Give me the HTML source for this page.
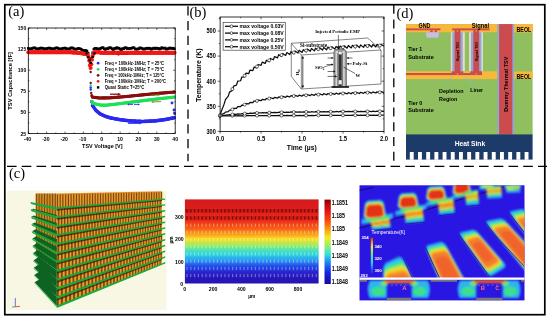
<!DOCTYPE html>
<html><head><meta charset="utf-8"><title>figure</title><style>html,body{margin:0;padding:0;background:#fff;overflow:hidden}svg{display:block}</style></head><body>
<svg width="550" height="319" viewBox="0 0 550 319">
<rect x="0" y="0" width="550" height="319" fill="#fff"/>
<defs><filter id="soft" x="0" y="0" width="550" height="319" filterUnits="userSpaceOnUse"><feGaussianBlur stdDeviation="0.38"/></filter></defs>
<g filter="url(#soft)">
<g id="pa">
<g fill="#000"><rect x="27.00" y="47.05" width="2.6" height="2.6"/><rect x="28.15" y="47.72" width="2.6" height="2.6"/><rect x="29.30" y="47.63" width="2.6" height="2.6"/><rect x="30.45" y="47.18" width="2.6" height="2.6"/><rect x="31.60" y="46.84" width="2.6" height="2.6"/><rect x="32.75" y="46.53" width="2.6" height="2.6"/><rect x="33.90" y="46.72" width="2.6" height="2.6"/><rect x="35.05" y="47.49" width="2.6" height="2.6"/><rect x="36.20" y="47.85" width="2.6" height="2.6"/><rect x="37.35" y="47.35" width="2.6" height="2.6"/><rect x="38.50" y="47.17" width="2.6" height="2.6"/><rect x="39.65" y="46.71" width="2.6" height="2.6"/><rect x="40.80" y="46.89" width="2.6" height="2.6"/><rect x="41.95" y="47.05" width="2.6" height="2.6"/><rect x="43.10" y="47.63" width="2.6" height="2.6"/><rect x="44.25" y="47.67" width="2.6" height="2.6"/><rect x="45.40" y="47.30" width="2.6" height="2.6"/><rect x="46.55" y="46.99" width="2.6" height="2.6"/><rect x="47.70" y="46.71" width="2.6" height="2.6"/><rect x="48.85" y="46.94" width="2.6" height="2.6"/><rect x="50.00" y="47.31" width="2.6" height="2.6"/><rect x="51.15" y="47.64" width="2.6" height="2.6"/><rect x="52.30" y="47.68" width="2.6" height="2.6"/><rect x="53.45" y="47.10" width="2.6" height="2.6"/><rect x="54.60" y="46.67" width="2.6" height="2.6"/><rect x="55.75" y="46.53" width="2.6" height="2.6"/><rect x="56.90" y="47.12" width="2.6" height="2.6"/><rect x="58.05" y="47.44" width="2.6" height="2.6"/><rect x="59.20" y="48.03" width="2.6" height="2.6"/><rect x="60.35" y="47.51" width="2.6" height="2.6"/><rect x="61.50" y="47.00" width="2.6" height="2.6"/><rect x="62.65" y="46.88" width="2.6" height="2.6"/><rect x="63.80" y="46.75" width="2.6" height="2.6"/><rect x="64.95" y="47.26" width="2.6" height="2.6"/><rect x="66.10" y="47.66" width="2.6" height="2.6"/><rect x="67.25" y="47.89" width="2.6" height="2.6"/><rect x="68.40" y="47.32" width="2.6" height="2.6"/><rect x="69.55" y="46.66" width="2.6" height="2.6"/><rect x="70.70" y="46.60" width="2.6" height="2.6"/><rect x="71.85" y="46.85" width="2.6" height="2.6"/><rect x="73.00" y="47.63" width="2.6" height="2.6"/><rect x="74.15" y="48.06" width="2.6" height="2.6"/><rect x="75.30" y="47.79" width="2.6" height="2.6"/><rect x="76.45" y="47.29" width="2.6" height="2.6"/><rect x="77.60" y="47.27" width="2.6" height="2.6"/><rect x="78.75" y="47.44" width="2.6" height="2.6"/><rect x="79.90" y="47.97" width="2.6" height="2.6"/><rect x="81.05" y="48.86" width="2.6" height="2.6"/><rect x="82.20" y="49.45" width="2.6" height="2.6"/><rect x="83.35" y="49.34" width="2.6" height="2.6"/><rect x="84.50" y="49.19" width="2.6" height="2.6"/><rect x="85.65" y="49.74" width="2.6" height="2.6"/><rect x="86.80" y="51.86" width="2.6" height="2.6"/><rect x="87.95" y="57.14" width="2.6" height="2.6"/><rect x="89.10" y="62.10" width="2.6" height="2.6"/><rect x="90.25" y="57.07" width="2.6" height="2.6"/><rect x="91.40" y="51.46" width="2.6" height="2.6"/><rect x="92.55" y="47.91" width="2.6" height="2.6"/><rect x="93.70" y="46.99" width="2.6" height="2.6"/><rect x="94.85" y="47.03" width="2.6" height="2.6"/><rect x="96.00" y="47.64" width="2.6" height="2.6"/><rect x="97.15" y="47.68" width="2.6" height="2.6"/><rect x="98.30" y="47.71" width="2.6" height="2.6"/><rect x="99.45" y="47.00" width="2.6" height="2.6"/><rect x="100.60" y="46.49" width="2.6" height="2.6"/><rect x="101.75" y="46.34" width="2.6" height="2.6"/><rect x="102.90" y="47.47" width="2.6" height="2.6"/><rect x="104.05" y="48.14" width="2.6" height="2.6"/><rect x="105.20" y="47.32" width="2.6" height="2.6"/><rect x="106.35" y="47.48" width="2.6" height="2.6"/><rect x="107.50" y="46.72" width="2.6" height="2.6"/><rect x="108.65" y="46.35" width="2.6" height="2.6"/><rect x="109.80" y="46.68" width="2.6" height="2.6"/><rect x="110.95" y="47.58" width="2.6" height="2.6"/><rect x="112.10" y="48.27" width="2.6" height="2.6"/><rect x="113.25" y="47.05" width="2.6" height="2.6"/><rect x="114.40" y="47.12" width="2.6" height="2.6"/><rect x="115.55" y="46.28" width="2.6" height="2.6"/><rect x="116.70" y="46.96" width="2.6" height="2.6"/><rect x="117.85" y="46.86" width="2.6" height="2.6"/><rect x="119.00" y="47.91" width="2.6" height="2.6"/><rect x="120.15" y="48.35" width="2.6" height="2.6"/><rect x="121.30" y="47.29" width="2.6" height="2.6"/><rect x="122.45" y="47.37" width="2.6" height="2.6"/><rect x="123.60" y="46.51" width="2.6" height="2.6"/><rect x="124.75" y="46.40" width="2.6" height="2.6"/><rect x="125.90" y="47.30" width="2.6" height="2.6"/><rect x="127.05" y="47.29" width="2.6" height="2.6"/><rect x="128.20" y="47.33" width="2.6" height="2.6"/><rect x="129.35" y="47.01" width="2.6" height="2.6"/><rect x="130.50" y="46.88" width="2.6" height="2.6"/><rect x="131.65" y="46.37" width="2.6" height="2.6"/><rect x="132.80" y="46.48" width="2.6" height="2.6"/><rect x="133.95" y="47.77" width="2.6" height="2.6"/><rect x="135.10" y="47.81" width="2.6" height="2.6"/><rect x="136.25" y="47.86" width="2.6" height="2.6"/><rect x="137.40" y="47.34" width="2.6" height="2.6"/><rect x="138.55" y="46.59" width="2.6" height="2.6"/><rect x="139.70" y="46.73" width="2.6" height="2.6"/><rect x="140.85" y="47.12" width="2.6" height="2.6"/><rect x="142.00" y="47.77" width="2.6" height="2.6"/><rect x="143.15" y="47.86" width="2.6" height="2.6"/><rect x="144.30" y="47.26" width="2.6" height="2.6"/><rect x="145.45" y="46.94" width="2.6" height="2.6"/><rect x="146.60" y="47.14" width="2.6" height="2.6"/><rect x="147.75" y="46.88" width="2.6" height="2.6"/><rect x="148.90" y="47.22" width="2.6" height="2.6"/><rect x="150.05" y="48.09" width="2.6" height="2.6"/><rect x="151.20" y="47.27" width="2.6" height="2.6"/><rect x="152.35" y="46.83" width="2.6" height="2.6"/><rect x="153.50" y="47.22" width="2.6" height="2.6"/><rect x="154.65" y="46.75" width="2.6" height="2.6"/><rect x="155.80" y="47.06" width="2.6" height="2.6"/><rect x="156.95" y="47.01" width="2.6" height="2.6"/><rect x="158.10" y="47.81" width="2.6" height="2.6"/><rect x="159.25" y="47.39" width="2.6" height="2.6"/><rect x="160.40" y="46.40" width="2.6" height="2.6"/><rect x="161.55" y="46.82" width="2.6" height="2.6"/><rect x="162.70" y="46.94" width="2.6" height="2.6"/><rect x="163.85" y="46.74" width="2.6" height="2.6"/><rect x="165.00" y="47.86" width="2.6" height="2.6"/><rect x="166.15" y="47.62" width="2.6" height="2.6"/><rect x="167.30" y="47.30" width="2.6" height="2.6"/><rect x="168.45" y="46.63" width="2.6" height="2.6"/><rect x="169.60" y="46.92" width="2.6" height="2.6"/><rect x="170.75" y="47.16" width="2.6" height="2.6"/><rect x="171.90" y="46.90" width="2.6" height="2.6"/><rect x="173.05" y="47.53" width="2.6" height="2.6"/></g>
<g fill="#2a2af0"><circle cx="91.80" cy="101.65" r="1.8"/><circle cx="92.60" cy="105.64" r="1.8"/><circle cx="93.40" cy="106.79" r="1.8"/><circle cx="94.20" cy="107.93" r="1.8"/><circle cx="95.00" cy="109.07" r="1.8"/><circle cx="95.80" cy="110.21" r="1.8"/><circle cx="96.60" cy="110.99" r="1.8"/><circle cx="97.40" cy="111.65" r="1.8"/><circle cx="98.20" cy="112.31" r="1.8"/><circle cx="99.00" cy="112.97" r="1.8"/><circle cx="99.80" cy="113.63" r="1.8"/><circle cx="100.60" cy="114.09" r="1.8"/><circle cx="101.40" cy="114.47" r="1.8"/><circle cx="102.20" cy="114.86" r="1.8"/><circle cx="103.00" cy="115.24" r="1.8"/><circle cx="103.80" cy="115.62" r="1.8"/><circle cx="104.60" cy="116.01" r="1.8"/><circle cx="105.40" cy="116.33" r="1.8"/><circle cx="106.20" cy="116.58" r="1.8"/><circle cx="107.00" cy="116.84" r="1.8"/><circle cx="107.80" cy="117.10" r="1.8"/><circle cx="108.60" cy="117.35" r="1.8"/><circle cx="109.40" cy="117.61" r="1.8"/><circle cx="110.20" cy="117.84" r="1.8"/><circle cx="111.00" cy="117.99" r="1.8"/><circle cx="111.80" cy="118.14" r="1.8"/><circle cx="112.60" cy="118.29" r="1.8"/><circle cx="113.40" cy="118.45" r="1.8"/><circle cx="114.20" cy="118.60" r="1.8"/><circle cx="115.00" cy="118.75" r="1.8"/><circle cx="115.80" cy="118.90" r="1.8"/><circle cx="116.60" cy="119.05" r="1.8"/><circle cx="117.40" cy="119.21" r="1.8"/><circle cx="118.20" cy="119.36" r="1.8"/><circle cx="119.00" cy="119.51" r="1.8"/><circle cx="119.80" cy="119.66" r="1.8"/><circle cx="120.60" cy="119.77" r="1.8"/><circle cx="121.40" cy="119.87" r="1.8"/><circle cx="122.20" cy="119.96" r="1.8"/><circle cx="123.00" cy="120.06" r="1.8"/><circle cx="123.80" cy="120.16" r="1.8"/><circle cx="124.60" cy="120.25" r="1.8"/><circle cx="125.40" cy="120.35" r="1.8"/><circle cx="126.20" cy="120.44" r="1.8"/><circle cx="127.00" cy="120.54" r="1.8"/><circle cx="127.80" cy="120.64" r="1.8"/><circle cx="128.60" cy="120.73" r="1.8"/><circle cx="129.40" cy="120.83" r="1.8"/><circle cx="130.20" cy="120.91" r="1.8"/><circle cx="131.00" cy="120.95" r="1.8"/><circle cx="131.80" cy="120.99" r="1.8"/><circle cx="132.60" cy="121.02" r="1.8"/><circle cx="133.40" cy="121.06" r="1.8"/><circle cx="134.20" cy="121.10" r="1.8"/><circle cx="135.00" cy="121.14" r="1.8"/><circle cx="135.80" cy="121.18" r="1.8"/><circle cx="136.60" cy="121.21" r="1.8"/><circle cx="137.40" cy="121.25" r="1.8"/><circle cx="138.20" cy="121.29" r="1.8"/><circle cx="139.00" cy="121.33" r="1.8"/><circle cx="139.80" cy="121.37" r="1.8"/><circle cx="140.60" cy="121.40" r="1.8"/><circle cx="141.40" cy="121.44" r="1.8"/><circle cx="142.20" cy="121.48" r="1.8"/><circle cx="143.00" cy="121.48" r="1.8"/><circle cx="143.80" cy="121.44" r="1.8"/><circle cx="144.60" cy="121.40" r="1.8"/><circle cx="145.40" cy="121.36" r="1.8"/><circle cx="146.20" cy="121.33" r="1.8"/><circle cx="147.00" cy="121.29" r="1.8"/><circle cx="147.80" cy="121.25" r="1.8"/><circle cx="148.60" cy="121.21" r="1.8"/><circle cx="149.40" cy="121.17" r="1.8"/><circle cx="150.20" cy="121.13" r="1.8"/><circle cx="151.00" cy="121.09" r="1.8"/><circle cx="151.80" cy="121.05" r="1.8"/><circle cx="152.60" cy="121.02" r="1.8"/><circle cx="153.40" cy="120.98" r="1.8"/><circle cx="154.20" cy="120.94" r="1.8"/><circle cx="155.00" cy="120.90" r="1.8"/><circle cx="155.80" cy="120.80" r="1.8"/><circle cx="156.60" cy="120.69" r="1.8"/><circle cx="157.40" cy="120.59" r="1.8"/><circle cx="158.20" cy="120.48" r="1.8"/><circle cx="159.00" cy="120.38" r="1.8"/><circle cx="159.80" cy="120.28" r="1.8"/><circle cx="160.60" cy="120.17" r="1.8"/><circle cx="161.40" cy="120.07" r="1.8"/><circle cx="162.20" cy="119.96" r="1.8"/><circle cx="163.00" cy="119.86" r="1.8"/><circle cx="163.80" cy="119.76" r="1.8"/><circle cx="164.60" cy="119.65" r="1.8"/><circle cx="165.40" cy="119.52" r="1.8"/><circle cx="166.20" cy="119.36" r="1.8"/><circle cx="167.00" cy="119.20" r="1.8"/><circle cx="167.80" cy="119.04" r="1.8"/><circle cx="168.60" cy="118.88" r="1.8"/><circle cx="169.40" cy="118.72" r="1.8"/><circle cx="170.20" cy="118.56" r="1.8"/><circle cx="171.00" cy="118.40" r="1.8"/><circle cx="171.80" cy="118.24" r="1.8"/><circle cx="172.60" cy="118.08" r="1.8"/><circle cx="173.40" cy="117.92" r="1.8"/><circle cx="174.20" cy="117.76" r="1.8"/></g>
<g fill="#2a2af0"><circle cx="172" cy="103" r="1.4"/><circle cx="174" cy="110" r="1.4"/><circle cx="174.6" cy="113.6" r="1.4"/></g>
<g fill="#1ee05a"><circle cx="91.80" cy="101.31" r="1.6"/><circle cx="92.60" cy="103.22" r="1.6"/><circle cx="93.40" cy="103.42" r="1.6"/><circle cx="94.20" cy="103.61" r="1.6"/><circle cx="95.00" cy="103.80" r="1.6"/><circle cx="95.80" cy="103.99" r="1.6"/><circle cx="96.60" cy="104.18" r="1.6"/><circle cx="97.40" cy="104.38" r="1.6"/><circle cx="98.20" cy="104.57" r="1.6"/><circle cx="99.00" cy="104.76" r="1.6"/><circle cx="99.80" cy="104.95" r="1.6"/><circle cx="100.60" cy="105.02" r="1.6"/><circle cx="101.40" cy="105.05" r="1.6"/><circle cx="102.20" cy="105.07" r="1.6"/><circle cx="103.00" cy="105.10" r="1.6"/><circle cx="103.80" cy="105.13" r="1.6"/><circle cx="104.60" cy="105.15" r="1.6"/><circle cx="105.40" cy="105.18" r="1.6"/><circle cx="106.20" cy="105.18" r="1.6"/><circle cx="107.00" cy="105.09" r="1.6"/><circle cx="107.80" cy="104.99" r="1.6"/><circle cx="108.60" cy="104.90" r="1.6"/><circle cx="109.40" cy="104.81" r="1.6"/><circle cx="110.20" cy="104.72" r="1.6"/><circle cx="111.00" cy="104.63" r="1.6"/><circle cx="111.80" cy="104.54" r="1.6"/><circle cx="112.60" cy="104.45" r="1.6"/><circle cx="113.40" cy="104.35" r="1.6"/><circle cx="114.20" cy="104.26" r="1.6"/><circle cx="115.00" cy="104.17" r="1.6"/><circle cx="115.80" cy="104.08" r="1.6"/><circle cx="116.60" cy="103.99" r="1.6"/><circle cx="117.40" cy="103.90" r="1.6"/><circle cx="118.20" cy="103.81" r="1.6"/><circle cx="119.00" cy="103.71" r="1.6"/><circle cx="119.80" cy="103.62" r="1.6"/><circle cx="120.60" cy="103.52" r="1.6"/><circle cx="121.40" cy="103.42" r="1.6"/><circle cx="122.20" cy="103.31" r="1.6"/><circle cx="123.00" cy="103.21" r="1.6"/><circle cx="123.80" cy="103.11" r="1.6"/><circle cx="124.60" cy="103.00" r="1.6"/><circle cx="125.40" cy="102.90" r="1.6"/><circle cx="126.20" cy="102.79" r="1.6"/><circle cx="127.00" cy="102.69" r="1.6"/><circle cx="127.80" cy="102.59" r="1.6"/><circle cx="128.60" cy="102.48" r="1.6"/><circle cx="129.40" cy="102.38" r="1.6"/><circle cx="130.20" cy="102.27" r="1.6"/><circle cx="131.00" cy="102.17" r="1.6"/><circle cx="131.80" cy="102.07" r="1.6"/><circle cx="132.60" cy="101.96" r="1.6"/><circle cx="133.40" cy="101.86" r="1.6"/><circle cx="134.20" cy="101.75" r="1.6"/><circle cx="135.00" cy="101.65" r="1.6"/><circle cx="135.80" cy="101.55" r="1.6"/><circle cx="136.60" cy="101.44" r="1.6"/><circle cx="137.40" cy="101.34" r="1.6"/><circle cx="138.20" cy="101.23" r="1.6"/><circle cx="139.00" cy="101.13" r="1.6"/><circle cx="139.80" cy="101.03" r="1.6"/><circle cx="140.60" cy="100.93" r="1.6"/><circle cx="141.40" cy="100.83" r="1.6"/><circle cx="142.20" cy="100.74" r="1.6"/><circle cx="143.00" cy="100.64" r="1.6"/><circle cx="143.80" cy="100.54" r="1.6"/><circle cx="144.60" cy="100.45" r="1.6"/><circle cx="145.40" cy="100.35" r="1.6"/><circle cx="146.20" cy="100.26" r="1.6"/><circle cx="147.00" cy="100.16" r="1.6"/><circle cx="147.80" cy="100.06" r="1.6"/><circle cx="148.60" cy="99.97" r="1.6"/><circle cx="149.40" cy="99.87" r="1.6"/><circle cx="150.20" cy="99.78" r="1.6"/><circle cx="151.00" cy="99.68" r="1.6"/><circle cx="151.80" cy="99.58" r="1.6"/><circle cx="152.60" cy="99.49" r="1.6"/><circle cx="153.40" cy="99.39" r="1.6"/><circle cx="154.20" cy="99.30" r="1.6"/><circle cx="155.00" cy="99.20" r="1.6"/><circle cx="155.80" cy="99.10" r="1.6"/><circle cx="156.60" cy="99.01" r="1.6"/><circle cx="157.40" cy="98.91" r="1.6"/><circle cx="158.20" cy="98.82" r="1.6"/><circle cx="159.00" cy="98.72" r="1.6"/><circle cx="159.80" cy="98.62" r="1.6"/><circle cx="160.60" cy="98.54" r="1.6"/><circle cx="161.40" cy="98.45" r="1.6"/><circle cx="162.20" cy="98.37" r="1.6"/><circle cx="163.00" cy="98.28" r="1.6"/><circle cx="163.80" cy="98.19" r="1.6"/><circle cx="164.60" cy="98.11" r="1.6"/><circle cx="165.40" cy="98.02" r="1.6"/><circle cx="166.20" cy="97.94" r="1.6"/><circle cx="167.00" cy="97.85" r="1.6"/><circle cx="167.80" cy="97.77" r="1.6"/><circle cx="168.60" cy="97.68" r="1.6"/><circle cx="169.40" cy="97.60" r="1.6"/><circle cx="170.20" cy="97.51" r="1.6"/><circle cx="171.00" cy="97.43" r="1.6"/><circle cx="171.80" cy="97.34" r="1.6"/><circle cx="172.60" cy="97.26" r="1.6"/><circle cx="173.40" cy="97.17" r="1.6"/><circle cx="174.20" cy="97.09" r="1.6"/></g>
<g fill="#8a1010"><circle cx="91.80" cy="95.66" r="1.6"/><circle cx="92.60" cy="97.21" r="1.6"/><circle cx="93.40" cy="97.30" r="1.6"/><circle cx="94.20" cy="97.38" r="1.6"/><circle cx="95.00" cy="97.47" r="1.6"/><circle cx="95.80" cy="97.55" r="1.6"/><circle cx="96.60" cy="97.64" r="1.6"/><circle cx="97.40" cy="97.72" r="1.6"/><circle cx="98.20" cy="97.81" r="1.6"/><circle cx="99.00" cy="97.89" r="1.6"/><circle cx="99.80" cy="97.98" r="1.6"/><circle cx="100.60" cy="97.99" r="1.6"/><circle cx="101.40" cy="97.97" r="1.6"/><circle cx="102.20" cy="97.96" r="1.6"/><circle cx="103.00" cy="97.94" r="1.6"/><circle cx="103.80" cy="97.92" r="1.6"/><circle cx="104.60" cy="97.91" r="1.6"/><circle cx="105.40" cy="97.89" r="1.6"/><circle cx="106.20" cy="97.88" r="1.6"/><circle cx="107.00" cy="97.86" r="1.6"/><circle cx="107.80" cy="97.84" r="1.6"/><circle cx="108.60" cy="97.83" r="1.6"/><circle cx="109.40" cy="97.81" r="1.6"/><circle cx="110.20" cy="97.78" r="1.6"/><circle cx="111.00" cy="97.72" r="1.6"/><circle cx="111.80" cy="97.66" r="1.6"/><circle cx="112.60" cy="97.59" r="1.6"/><circle cx="113.40" cy="97.53" r="1.6"/><circle cx="114.20" cy="97.46" r="1.6"/><circle cx="115.00" cy="97.40" r="1.6"/><circle cx="115.80" cy="97.34" r="1.6"/><circle cx="116.60" cy="97.27" r="1.6"/><circle cx="117.40" cy="97.21" r="1.6"/><circle cx="118.20" cy="97.14" r="1.6"/><circle cx="119.00" cy="97.08" r="1.6"/><circle cx="119.80" cy="97.02" r="1.6"/><circle cx="120.60" cy="96.95" r="1.6"/><circle cx="121.40" cy="96.89" r="1.6"/><circle cx="122.20" cy="96.82" r="1.6"/><circle cx="123.00" cy="96.76" r="1.6"/><circle cx="123.80" cy="96.70" r="1.6"/><circle cx="124.60" cy="96.63" r="1.6"/><circle cx="125.40" cy="96.56" r="1.6"/><circle cx="126.20" cy="96.48" r="1.6"/><circle cx="127.00" cy="96.40" r="1.6"/><circle cx="127.80" cy="96.32" r="1.6"/><circle cx="128.60" cy="96.24" r="1.6"/><circle cx="129.40" cy="96.16" r="1.6"/><circle cx="130.20" cy="96.08" r="1.6"/><circle cx="131.00" cy="96.00" r="1.6"/><circle cx="131.80" cy="95.92" r="1.6"/><circle cx="132.60" cy="95.84" r="1.6"/><circle cx="133.40" cy="95.76" r="1.6"/><circle cx="134.20" cy="95.68" r="1.6"/><circle cx="135.00" cy="95.60" r="1.6"/><circle cx="135.80" cy="95.52" r="1.6"/><circle cx="136.60" cy="95.44" r="1.6"/><circle cx="137.40" cy="95.36" r="1.6"/><circle cx="138.20" cy="95.28" r="1.6"/><circle cx="139.00" cy="95.20" r="1.6"/><circle cx="139.80" cy="95.12" r="1.6"/><circle cx="140.60" cy="95.04" r="1.6"/><circle cx="141.40" cy="94.96" r="1.6"/><circle cx="142.20" cy="94.88" r="1.6"/><circle cx="143.00" cy="94.80" r="1.6"/><circle cx="143.80" cy="94.72" r="1.6"/><circle cx="144.60" cy="94.64" r="1.6"/><circle cx="145.40" cy="94.56" r="1.6"/><circle cx="146.20" cy="94.49" r="1.6"/><circle cx="147.00" cy="94.41" r="1.6"/><circle cx="147.80" cy="94.34" r="1.6"/><circle cx="148.60" cy="94.26" r="1.6"/><circle cx="149.40" cy="94.19" r="1.6"/><circle cx="150.20" cy="94.11" r="1.6"/><circle cx="151.00" cy="94.04" r="1.6"/><circle cx="151.80" cy="93.97" r="1.6"/><circle cx="152.60" cy="93.89" r="1.6"/><circle cx="153.40" cy="93.82" r="1.6"/><circle cx="154.20" cy="93.74" r="1.6"/><circle cx="155.00" cy="93.67" r="1.6"/><circle cx="155.80" cy="93.59" r="1.6"/><circle cx="156.60" cy="93.52" r="1.6"/><circle cx="157.40" cy="93.44" r="1.6"/><circle cx="158.20" cy="93.37" r="1.6"/><circle cx="159.00" cy="93.29" r="1.6"/><circle cx="159.80" cy="93.22" r="1.6"/><circle cx="160.60" cy="93.15" r="1.6"/><circle cx="161.40" cy="93.09" r="1.6"/><circle cx="162.20" cy="93.02" r="1.6"/><circle cx="163.00" cy="92.96" r="1.6"/><circle cx="163.80" cy="92.90" r="1.6"/><circle cx="164.60" cy="92.83" r="1.6"/><circle cx="165.40" cy="92.77" r="1.6"/><circle cx="166.20" cy="92.70" r="1.6"/><circle cx="167.00" cy="92.64" r="1.6"/><circle cx="167.80" cy="92.58" r="1.6"/><circle cx="168.60" cy="92.51" r="1.6"/><circle cx="169.40" cy="92.45" r="1.6"/><circle cx="170.20" cy="92.38" r="1.6"/><circle cx="171.00" cy="92.32" r="1.6"/><circle cx="171.80" cy="92.26" r="1.6"/><circle cx="172.60" cy="92.19" r="1.6"/><circle cx="173.40" cy="92.13" r="1.6"/><circle cx="174.20" cy="92.06" r="1.6"/></g>
<g><circle cx="90.7" cy="72" r="1.2" fill="#8a1010"/><circle cx="90.7" cy="83" r="1.2" fill="#8a1010"/><circle cx="90.7" cy="85.6" r="1.2" fill="#1ee05a"/><circle cx="90.7" cy="87.6" r="1.2" fill="#2a2af0"/><circle cx="90.7" cy="89.5" r="1.2" fill="#2a2af0"/><circle cx="91.2" cy="93" r="1.2" fill="#8a1010"/></g>
<g fill="#f01818"><circle cx="28.30" cy="52.30" r="2.0"/><circle cx="29.00" cy="52.30" r="2.0"/><circle cx="29.70" cy="52.30" r="2.0"/><circle cx="30.40" cy="52.30" r="2.0"/><circle cx="31.10" cy="52.30" r="2.0"/><circle cx="31.80" cy="52.30" r="2.0"/><circle cx="32.50" cy="52.30" r="2.0"/><circle cx="33.20" cy="52.30" r="2.0"/><circle cx="33.90" cy="52.30" r="2.0"/><circle cx="34.60" cy="52.30" r="2.0"/><circle cx="35.30" cy="52.30" r="2.0"/><circle cx="36.00" cy="52.30" r="2.0"/><circle cx="36.70" cy="52.30" r="2.0"/><circle cx="37.40" cy="52.30" r="2.0"/><circle cx="38.10" cy="52.30" r="2.0"/><circle cx="38.80" cy="52.30" r="2.0"/><circle cx="39.50" cy="52.30" r="2.0"/><circle cx="40.20" cy="52.30" r="2.0"/><circle cx="40.90" cy="52.30" r="2.0"/><circle cx="41.60" cy="52.30" r="2.0"/><circle cx="42.30" cy="52.30" r="2.0"/><circle cx="43.00" cy="52.30" r="2.0"/><circle cx="43.70" cy="52.30" r="2.0"/><circle cx="44.40" cy="52.30" r="2.0"/><circle cx="45.10" cy="52.30" r="2.0"/><circle cx="45.80" cy="52.30" r="2.0"/><circle cx="46.50" cy="52.30" r="2.0"/><circle cx="47.20" cy="52.30" r="2.0"/><circle cx="47.90" cy="52.30" r="2.0"/><circle cx="48.60" cy="52.30" r="2.0"/><circle cx="49.30" cy="52.30" r="2.0"/><circle cx="50.00" cy="52.30" r="2.0"/><circle cx="50.70" cy="52.30" r="2.0"/><circle cx="51.40" cy="52.30" r="2.0"/><circle cx="52.10" cy="52.30" r="2.0"/><circle cx="52.80" cy="52.30" r="2.0"/><circle cx="53.50" cy="52.30" r="2.0"/><circle cx="54.20" cy="52.30" r="2.0"/><circle cx="54.90" cy="52.30" r="2.0"/><circle cx="55.60" cy="52.30" r="2.0"/><circle cx="56.30" cy="52.30" r="2.0"/><circle cx="57.00" cy="52.30" r="2.0"/><circle cx="57.70" cy="52.30" r="2.0"/><circle cx="58.40" cy="52.30" r="2.0"/><circle cx="59.10" cy="52.30" r="2.0"/><circle cx="59.80" cy="52.30" r="2.0"/><circle cx="60.50" cy="52.30" r="2.0"/><circle cx="61.20" cy="52.30" r="2.0"/><circle cx="61.90" cy="52.30" r="2.0"/><circle cx="62.60" cy="52.30" r="2.0"/><circle cx="63.30" cy="52.30" r="2.0"/><circle cx="64.00" cy="52.30" r="2.0"/><circle cx="64.70" cy="52.30" r="2.0"/><circle cx="65.40" cy="52.30" r="2.0"/><circle cx="66.10" cy="52.31" r="2.0"/><circle cx="66.80" cy="52.31" r="2.0"/><circle cx="67.50" cy="52.31" r="2.0"/><circle cx="68.20" cy="52.31" r="2.0"/><circle cx="68.90" cy="52.32" r="2.0"/><circle cx="69.60" cy="52.33" r="2.0"/><circle cx="70.30" cy="52.33" r="2.0"/><circle cx="71.00" cy="52.35" r="2.0"/><circle cx="71.70" cy="52.36" r="2.0"/><circle cx="72.40" cy="52.38" r="2.0"/><circle cx="73.10" cy="52.40" r="2.0"/><circle cx="73.80" cy="52.43" r="2.0"/><circle cx="74.50" cy="52.46" r="2.0"/><circle cx="75.20" cy="52.50" r="2.0"/><circle cx="75.90" cy="52.55" r="2.0"/><circle cx="76.60" cy="52.60" r="2.0"/><circle cx="77.30" cy="52.67" r="2.0"/><circle cx="78.00" cy="52.74" r="2.0"/><circle cx="78.70" cy="52.82" r="2.0"/><circle cx="79.40" cy="52.91" r="2.0"/><circle cx="80.10" cy="53.02" r="2.0"/><circle cx="80.80" cy="53.13" r="2.0"/><circle cx="81.50" cy="53.24" r="2.0"/><circle cx="82.20" cy="53.37" r="2.0"/><circle cx="82.90" cy="53.50" r="2.0"/><circle cx="83.60" cy="53.63" r="2.0"/><circle cx="84.30" cy="53.76" r="2.0"/><circle cx="85.00" cy="53.89" r="2.0"/><circle cx="85.70" cy="54.02" r="2.0"/><circle cx="86.40" cy="54.15" r="2.0"/><circle cx="87.10" cy="54.38" r="2.0"/><circle cx="87.80" cy="55.06" r="2.0"/><circle cx="88.50" cy="56.93" r="2.0"/><circle cx="89.20" cy="60.65" r="2.0"/><circle cx="89.90" cy="65.30" r="2.0"/><circle cx="90.60" cy="67.95" r="2.0"/><circle cx="91.30" cy="64.22" r="2.0"/><circle cx="92.00" cy="59.82" r="2.0"/><circle cx="92.70" cy="55.68" r="2.0"/><circle cx="93.40" cy="53.38" r="2.0"/><circle cx="94.10" cy="52.55" r="2.0"/><circle cx="94.80" cy="52.34" r="2.0"/><circle cx="95.50" cy="52.30" r="2.0"/><circle cx="96.20" cy="52.30" r="2.0"/><circle cx="96.90" cy="52.30" r="2.0"/><circle cx="97.60" cy="52.30" r="2.0"/><circle cx="98.30" cy="52.30" r="2.0"/><circle cx="99.00" cy="52.30" r="2.0"/><circle cx="99.70" cy="52.30" r="2.0"/><circle cx="100.40" cy="52.80" r="2.0"/><circle cx="101.10" cy="52.80" r="2.0"/><circle cx="101.80" cy="52.80" r="2.0"/><circle cx="102.50" cy="52.80" r="2.0"/><circle cx="103.20" cy="52.80" r="2.0"/><circle cx="103.90" cy="52.80" r="2.0"/><circle cx="104.60" cy="52.80" r="2.0"/><circle cx="105.30" cy="52.80" r="2.0"/><circle cx="106.00" cy="52.80" r="2.0"/><circle cx="106.70" cy="52.80" r="2.0"/><circle cx="107.40" cy="52.80" r="2.0"/><circle cx="108.10" cy="52.80" r="2.0"/><circle cx="108.80" cy="52.80" r="2.0"/><circle cx="109.50" cy="52.80" r="2.0"/><circle cx="110.20" cy="52.80" r="2.0"/><circle cx="110.90" cy="52.80" r="2.0"/><circle cx="111.60" cy="52.80" r="2.0"/><circle cx="112.30" cy="52.80" r="2.0"/><circle cx="113.00" cy="52.80" r="2.0"/><circle cx="113.70" cy="52.80" r="2.0"/><circle cx="114.40" cy="52.80" r="2.0"/><circle cx="115.10" cy="52.80" r="2.0"/><circle cx="115.80" cy="52.80" r="2.0"/><circle cx="116.50" cy="52.80" r="2.0"/><circle cx="117.20" cy="52.80" r="2.0"/><circle cx="117.90" cy="52.80" r="2.0"/><circle cx="118.60" cy="52.80" r="2.0"/><circle cx="119.30" cy="52.80" r="2.0"/><circle cx="120.00" cy="52.80" r="2.0"/><circle cx="120.70" cy="52.80" r="2.0"/><circle cx="121.40" cy="52.80" r="2.0"/><circle cx="122.10" cy="52.80" r="2.0"/><circle cx="122.80" cy="52.80" r="2.0"/><circle cx="123.50" cy="52.80" r="2.0"/><circle cx="124.20" cy="52.80" r="2.0"/><circle cx="124.90" cy="52.80" r="2.0"/><circle cx="125.60" cy="52.80" r="2.0"/><circle cx="126.30" cy="52.80" r="2.0"/><circle cx="127.00" cy="52.80" r="2.0"/><circle cx="127.70" cy="52.80" r="2.0"/><circle cx="128.40" cy="52.80" r="2.0"/><circle cx="129.10" cy="52.80" r="2.0"/><circle cx="129.80" cy="52.80" r="2.0"/><circle cx="130.50" cy="52.80" r="2.0"/><circle cx="131.20" cy="52.80" r="2.0"/><circle cx="131.90" cy="52.80" r="2.0"/><circle cx="132.60" cy="52.80" r="2.0"/><circle cx="133.30" cy="52.80" r="2.0"/><circle cx="134.00" cy="52.80" r="2.0"/><circle cx="134.70" cy="52.80" r="2.0"/><circle cx="135.40" cy="52.80" r="2.0"/><circle cx="136.10" cy="52.80" r="2.0"/><circle cx="136.80" cy="52.80" r="2.0"/><circle cx="137.50" cy="52.80" r="2.0"/><circle cx="138.20" cy="52.80" r="2.0"/><circle cx="138.90" cy="52.80" r="2.0"/><circle cx="139.60" cy="52.80" r="2.0"/><circle cx="140.30" cy="52.80" r="2.0"/><circle cx="141.00" cy="52.80" r="2.0"/><circle cx="141.70" cy="52.80" r="2.0"/><circle cx="142.40" cy="52.80" r="2.0"/><circle cx="143.10" cy="52.80" r="2.0"/><circle cx="143.80" cy="52.80" r="2.0"/><circle cx="144.50" cy="52.80" r="2.0"/><circle cx="145.20" cy="52.80" r="2.0"/><circle cx="145.90" cy="52.80" r="2.0"/><circle cx="146.60" cy="52.80" r="2.0"/><circle cx="147.30" cy="52.80" r="2.0"/><circle cx="148.00" cy="52.80" r="2.0"/><circle cx="148.70" cy="52.80" r="2.0"/><circle cx="149.40" cy="52.80" r="2.0"/><circle cx="150.10" cy="52.80" r="2.0"/><circle cx="150.80" cy="52.80" r="2.0"/><circle cx="151.50" cy="52.80" r="2.0"/><circle cx="152.20" cy="52.80" r="2.0"/><circle cx="152.90" cy="52.80" r="2.0"/><circle cx="153.60" cy="52.80" r="2.0"/><circle cx="154.30" cy="52.80" r="2.0"/><circle cx="155.00" cy="52.80" r="2.0"/><circle cx="155.70" cy="52.80" r="2.0"/><circle cx="156.40" cy="52.80" r="2.0"/><circle cx="157.10" cy="52.80" r="2.0"/><circle cx="157.80" cy="52.80" r="2.0"/><circle cx="158.50" cy="52.80" r="2.0"/><circle cx="159.20" cy="52.80" r="2.0"/><circle cx="159.90" cy="52.80" r="2.0"/><circle cx="160.60" cy="52.80" r="2.0"/><circle cx="161.30" cy="52.80" r="2.0"/><circle cx="162.00" cy="52.80" r="2.0"/><circle cx="162.70" cy="52.80" r="2.0"/><circle cx="163.40" cy="52.80" r="2.0"/><circle cx="164.10" cy="52.80" r="2.0"/><circle cx="164.80" cy="52.80" r="2.0"/><circle cx="165.50" cy="52.80" r="2.0"/><circle cx="166.20" cy="52.80" r="2.0"/><circle cx="166.90" cy="52.80" r="2.0"/><circle cx="167.60" cy="52.80" r="2.0"/><circle cx="168.30" cy="52.80" r="2.0"/><circle cx="169.00" cy="52.80" r="2.0"/><circle cx="169.70" cy="52.80" r="2.0"/><circle cx="170.40" cy="52.80" r="2.0"/><circle cx="171.10" cy="52.80" r="2.0"/><circle cx="171.80" cy="52.80" r="2.0"/><circle cx="172.50" cy="52.80" r="2.0"/><circle cx="173.20" cy="52.80" r="2.0"/><circle cx="173.90" cy="52.80" r="2.0"/><circle cx="174.60" cy="52.80" r="2.0"/></g>
<g fill="#000"><rect x="85.40" y="52.30" width="2.2" height="2.2"/><rect x="87.10" y="55.90" width="2.2" height="2.2"/><rect x="88.60" y="59.10" width="2.2" height="2.2"/><rect x="89.60" y="61.80" width="2.2" height="2.2"/><rect x="91.60" y="55.90" width="2.2" height="2.2"/><rect x="93.40" y="52.30" width="2.2" height="2.2"/></g>
<rect x="28.3" y="28.0" width="146.90" height="105.50" fill="none" stroke="#000" stroke-width="0.8"/>
<path d="M28.30 133.5v-2.0M28.30 28.0v2.0M37.48 133.5v-1.1M37.48 28.0v1.1M46.66 133.5v-2.0M46.66 28.0v2.0M55.84 133.5v-1.1M55.84 28.0v1.1M65.02 133.5v-2.0M65.02 28.0v2.0M74.21 133.5v-1.1M74.21 28.0v1.1M83.39 133.5v-2.0M83.39 28.0v2.0M92.57 133.5v-1.1M92.57 28.0v1.1M101.75 133.5v-2.0M101.75 28.0v2.0M110.93 133.5v-1.1M110.93 28.0v1.1M120.11 133.5v-2.0M120.11 28.0v2.0M129.29 133.5v-1.1M129.29 28.0v1.1M138.47 133.5v-2.0M138.47 28.0v2.0M147.66 133.5v-1.1M147.66 28.0v1.1M156.84 133.5v-2.0M156.84 28.0v2.0M166.02 133.5v-1.1M166.02 28.0v1.1M175.20 133.5v-2.0M175.20 28.0v2.0M28.3 28.00h2.0M175.2 28.00h-2.0M28.3 38.55h1.1M175.2 38.55h-1.1M28.3 49.10h2.0M175.2 49.10h-2.0M28.3 59.65h1.1M175.2 59.65h-1.1M28.3 70.20h2.0M175.2 70.20h-2.0M28.3 80.75h1.1M175.2 80.75h-1.1M28.3 91.30h2.0M175.2 91.30h-2.0M28.3 101.85h1.1M175.2 101.85h-1.1M28.3 112.40h2.0M175.2 112.40h-2.0M28.3 122.95h1.1M175.2 122.95h-1.1M28.3 133.50h2.0M175.2 133.50h-2.0" stroke="#000" stroke-width="0.6" fill="none"/>
<text x="26.20" y="30.00" font-size="5.7" text-anchor="end" font-weight="bold" fill="#000" font-family="Liberation Sans, sans-serif" textLength="8.4" lengthAdjust="spacingAndGlyphs">150</text>
<text x="26.20" y="51.10" font-size="5.7" text-anchor="end" font-weight="bold" fill="#000" font-family="Liberation Sans, sans-serif" textLength="8.4" lengthAdjust="spacingAndGlyphs">125</text>
<text x="26.20" y="72.20" font-size="5.7" text-anchor="end" font-weight="bold" fill="#000" font-family="Liberation Sans, sans-serif" textLength="8.4" lengthAdjust="spacingAndGlyphs">100</text>
<text x="26.20" y="93.30" font-size="5.7" text-anchor="end" font-weight="bold" fill="#000" font-family="Liberation Sans, sans-serif" textLength="5.7" lengthAdjust="spacingAndGlyphs">75</text>
<text x="26.20" y="114.40" font-size="5.7" text-anchor="end" font-weight="bold" fill="#000" font-family="Liberation Sans, sans-serif" textLength="5.7" lengthAdjust="spacingAndGlyphs">50</text>
<text x="26.20" y="135.50" font-size="5.7" text-anchor="end" font-weight="bold" fill="#000" font-family="Liberation Sans, sans-serif" textLength="5.7" lengthAdjust="spacingAndGlyphs">25</text>
<text x="27.50" y="141.00" font-size="5.7" text-anchor="middle" font-weight="bold" fill="#000" font-family="Liberation Sans, sans-serif" textLength="7.4" lengthAdjust="spacingAndGlyphs">-40</text>
<text x="45.86" y="141.00" font-size="5.7" text-anchor="middle" font-weight="bold" fill="#000" font-family="Liberation Sans, sans-serif" textLength="7.4" lengthAdjust="spacingAndGlyphs">-30</text>
<text x="64.22" y="141.00" font-size="5.7" text-anchor="middle" font-weight="bold" fill="#000" font-family="Liberation Sans, sans-serif" textLength="7.4" lengthAdjust="spacingAndGlyphs">-20</text>
<text x="82.59" y="141.00" font-size="5.7" text-anchor="middle" font-weight="bold" fill="#000" font-family="Liberation Sans, sans-serif" textLength="7.4" lengthAdjust="spacingAndGlyphs">-10</text>
<text x="101.75" y="141.00" font-size="5.7" text-anchor="middle" font-weight="bold" fill="#000" font-family="Liberation Sans, sans-serif" textLength="2.9" lengthAdjust="spacingAndGlyphs">0</text>
<text x="120.11" y="141.00" font-size="5.7" text-anchor="middle" font-weight="bold" fill="#000" font-family="Liberation Sans, sans-serif" textLength="5.7" lengthAdjust="spacingAndGlyphs">10</text>
<text x="138.47" y="141.00" font-size="5.7" text-anchor="middle" font-weight="bold" fill="#000" font-family="Liberation Sans, sans-serif" textLength="5.7" lengthAdjust="spacingAndGlyphs">20</text>
<text x="156.84" y="141.00" font-size="5.7" text-anchor="middle" font-weight="bold" fill="#000" font-family="Liberation Sans, sans-serif" textLength="5.7" lengthAdjust="spacingAndGlyphs">30</text>
<text x="175.20" y="141.00" font-size="5.7" text-anchor="middle" font-weight="bold" fill="#000" font-family="Liberation Sans, sans-serif" textLength="5.7" lengthAdjust="spacingAndGlyphs">40</text>
<text x="102.30" y="148.20" font-size="5.5" text-anchor="middle" font-weight="bold" fill="#000" font-family="Liberation Sans, sans-serif" >TSV Voltage [V]</text>
<text transform="translate(12.30,80.90) rotate(-90)" font-size="5.75" text-anchor="middle" font-weight="bold" fill="#000" font-family="Liberation Sans, sans-serif" >TSV Capacitance [fF]</text>
<circle cx="98.1" cy="63.20" r="1.35" fill="#2a2af0"/>
<text x="104.70" y="64.80" font-size="4.6" text-anchor="start" font-weight="bold" fill="#000" font-family="Liberation Sans, sans-serif" textLength="59.4" lengthAdjust="spacingAndGlyphs">Freq = 100kHz-1MHz; T = 25°C</text>
<circle cx="98.1" cy="69.30" r="1.35" fill="#1ee05a"/>
<text x="104.70" y="70.90" font-size="4.6" text-anchor="start" font-weight="bold" fill="#000" font-family="Liberation Sans, sans-serif" textLength="59.4" lengthAdjust="spacingAndGlyphs">Freq = 100kHz-1MHz; T = 75°C</text>
<circle cx="98.1" cy="75.30" r="1.35" fill="#8a1010"/>
<text x="104.70" y="76.90" font-size="4.6" text-anchor="start" font-weight="bold" fill="#000" font-family="Liberation Sans, sans-serif" textLength="59.4" lengthAdjust="spacingAndGlyphs">Freq = 100kHz-1MHz; T = 125°C</text>
<circle cx="98.1" cy="81.30" r="1.35" fill="#f01818"/>
<text x="104.70" y="82.90" font-size="4.6" text-anchor="start" font-weight="bold" fill="#000" font-family="Liberation Sans, sans-serif" textLength="61.4" lengthAdjust="spacingAndGlyphs">Freq = 100kHz-1MHz; T = 200°C</text>
<rect x="96.9" y="86.20" width="2.4" height="2.4" fill="#000"/>
<text x="104.70" y="89.00" font-size="4.6" text-anchor="start" font-weight="bold" fill="#000" font-family="Liberation Sans, sans-serif" textLength="39.6" lengthAdjust="spacingAndGlyphs">Quasi Static T=25°C</text>
<path d="M128.00 54.00L119.20 54.29" stroke="#e01010" stroke-width="1.3" fill="none"/>
<path d="M116.00 54.40L119.14 52.69L119.25 55.89Z" fill="#e01010"/>
<path d="M110.00 94.20L118.00 94.20" stroke="#8a1010" stroke-width="1.3" fill="none"/>
<path d="M121.00 94.20L118.00 95.70L118.00 92.70Z" fill="#8a1010"/>
<path d="M150.00 95.30L157.50 95.07" stroke="#8a7a10" stroke-width="0.9" fill="none"/>
<path d="M160.00 95.00L157.54 96.32L157.46 93.83Z" fill="#8a7a10"/>
<path d="M161.00 101.60L153.50 101.90" stroke="#8a7a10" stroke-width="0.9" fill="none"/>
<path d="M151.00 102.00L153.45 100.65L153.55 103.15Z" fill="#8a7a10"/>
<path d="M134.00 104.40L137.80 104.40" stroke="#2a2af0" stroke-width="0.9" fill="none"/>
<path d="M140.00 104.40L137.80 105.50L137.80 103.30Z" fill="#2a2af0"/>
<path d="M133.00 104.40L129.20 104.40" stroke="#2a2af0" stroke-width="0.9" fill="none"/>
<path d="M127.00 104.40L129.20 103.30L129.20 105.50Z" fill="#2a2af0"/>
<path d="M128.00 123.30L139.40 123.30" stroke="#2a2af0" stroke-width="1.1" fill="none"/>
<path d="M142.00 123.30L139.40 124.60L139.40 122.00Z" fill="#2a2af0"/>
</g>
<g id="pb">
<rect x="288" y="27" width="93.5" height="64.5" fill="#fff"/>
<path d="M291.3 43.3L367.7 38.0L381.0 50.0L301.3 55.0ZM301.3 55.0L301.3 89.0L381.0 84.0L381.0 50.0M291.3 43.3L291.3 76.4L301.3 89.0" fill="none" stroke="#333" stroke-width="0.6"/>
<path d="M333.9 87.2V52.5Q333.9 48.8 340.1 48.8Q346.4 48.8 346.4 52.5V86.4Z" fill="#9a9a9a" stroke="#222" stroke-width="0.5"/>
<rect x="335.6" y="51" width="9.1" height="35.6" fill="#d6d6d6"/>
<rect x="337.2" y="53" width="5.9" height="33.4" fill="#7c7c7c"/>
<rect x="338.9" y="55" width="2.5" height="31" fill="#333"/>
<rect x="338.2" y="51.5" width="3.8" height="3" fill="#eee" stroke="#222" stroke-width="0.3"/>
<rect x="338.2" y="80" width="3.8" height="4.5" fill="#eee" stroke="#222" stroke-width="0.3"/>
<rect x="331.5" y="86.2" width="17.5" height="1.6" fill="#111"/>
<path d="M338.4 35V47.5" stroke="#222" stroke-width="0.6"/><path d="M338.4 48.6l-1.2-2.6h2.4z" fill="#222"/>
<path d="M302.8 57.5V87" stroke="#111" stroke-width="0.7"/><path d="M302.8 55.8l-1.3 2.8h2.6zM302.8 88.4l-1.3-2.8h2.6z" fill="#111"/>
<path d="M327.6 58.0H333.0" stroke="#111" stroke-width="0.6"/><path d="M333.6 58.0l-2.2 -1.1v2.2z" fill="#111"/>
<path d="M352.5 58.0H347.2" stroke="#111" stroke-width="0.6"/><path d="M346.59999999999997 58.0l2.2 -1.1v2.2z" fill="#111"/>
<path d="M326.5 64.5H333.0" stroke="#111" stroke-width="0.6"/><path d="M333.6 64.5l-2.2 -1.1v2.2z" fill="#111"/>
<path d="M352.0 63.8H347.2" stroke="#111" stroke-width="0.6"/><path d="M346.59999999999997 63.8l2.2 -1.1v2.2z" fill="#111"/>
<path d="M327.6 71.5H335.0" stroke="#111" stroke-width="0.6"/><path d="M335.6 71.5l-2.2 -1.1v2.2z" fill="#111"/>
<path d="M327.6 76.4H336.5" stroke="#111" stroke-width="0.6"/><path d="M337.1 76.4l-2.2 -1.1v2.2z" fill="#111"/>
<path d="M355 73.5L343.5 67" stroke="#111" stroke-width="0.6"/>
<path d="M324 66.8L333 64.6" stroke="#111" stroke-width="0.5"/>
<text x="337.6" y="33.3" font-size="4.6" font-weight="bold" text-anchor="middle" font-family="Liberation Serif, serif">Injected Periodic EMP</text>
<text x="300" y="46.6" font-size="5.3" font-weight="bold" font-family="Liberation Serif, serif">Si-substrate</text>
<text x="315" y="69.2" font-size="4.8" font-weight="bold" font-family="Liberation Serif, serif">SiO<tspan font-size="3.2" dy="0.8">2</tspan></text>
<text x="352.6" y="65.4" font-size="4.8" font-weight="bold" font-family="Liberation Serif, serif">Poly-Si</text>
<text x="355.4" y="76.8" font-size="4.8" font-weight="bold" font-family="Liberation Serif, serif">W</text>
<text transform="translate(298.8,72.5) rotate(-90)" text-anchor="middle" font-size="4.8" font-weight="bold" font-family="Liberation Serif, serif">H<tspan font-size="3.2" dy="0.8">si</tspan></text>
<path d="M220.10 116.02L221.33 115.96L224.20 115.98L225.43 115.88L228.29 115.93L229.52 115.80L232.39 115.89L233.62 115.72L236.49 115.83L237.72 115.66L240.59 115.77L241.82 115.62L244.69 115.76L245.91 115.60L248.78 115.74L250.01 115.59L252.88 115.73L254.11 115.58L256.98 115.72L258.21 115.56L261.07 115.70L262.30 115.55L265.17 115.69L266.40 115.53L269.27 115.67L270.50 115.52L273.37 115.66L274.60 115.50L277.46 115.64L278.69 115.49L281.56 115.63L282.79 115.48L285.66 115.62L286.89 115.46L289.76 115.60L290.99 115.45L293.86 115.59L295.08 115.43L297.95 115.57L299.18 115.42L302.05 115.56L303.28 115.41L306.15 115.55L307.38 115.39L310.25 115.53L311.47 115.38L314.34 115.52L315.57 115.36L318.44 115.50L319.67 115.35L322.54 115.49L323.77 115.33L326.63 115.47L327.86 115.32L330.73 115.46L331.96 115.31L334.83 115.45L336.06 115.29L338.93 115.43L340.16 115.28L343.02 115.42L344.25 115.26L347.12 115.40L348.35 115.25L351.22 115.39L352.45 115.23L355.32 115.37L356.55 115.22L359.41 115.36L360.64 115.21L363.51 115.35L364.74 115.19L367.61 115.33L368.84 115.18L371.71 115.32L372.94 115.16L375.81 115.30L377.03 115.15L379.90 115.29L381.13 115.13L384.00 115.25" stroke="#111" stroke-width="1.25" fill="none" stroke-linejoin="round"/>
<path d="M220.10 115.74L221.33 115.54L224.20 115.36L225.43 115.09L228.29 114.99L229.52 114.64L232.39 114.61L233.62 114.19L236.49 114.26L237.72 113.89L240.59 114.01L241.82 113.64L244.69 113.77L245.91 113.40L248.78 113.52L250.01 113.15L252.88 113.28L254.11 112.90L256.98 113.10L258.21 112.77L261.07 112.99L262.30 112.66L265.17 112.89L266.40 112.56L269.27 112.78L270.50 112.45L273.37 112.68L274.60 112.35L277.46 112.57L278.69 112.24L281.56 112.47L282.79 112.14L285.66 112.36L286.89 112.03L289.76 112.26L290.99 111.94L293.86 112.21L295.08 111.90L297.95 112.17L299.18 111.86L302.05 112.13L303.28 111.82L306.15 112.09L307.38 111.78L310.25 112.05L311.47 111.74L314.34 112.01L315.57 111.69L318.44 111.97L319.67 111.65L322.54 111.92L323.77 111.61L326.63 111.88L327.86 111.57L330.73 111.84L331.96 111.53L334.83 111.80L336.06 111.49L338.93 111.76L340.16 111.45L343.02 111.73L344.25 111.42L347.12 111.70L348.35 111.39L351.22 111.67L352.45 111.37L355.32 111.65L356.55 111.34L359.41 111.62L360.64 111.31L363.51 111.59L364.74 111.28L367.61 111.56L368.84 111.25L371.71 111.53L372.94 111.23L375.81 111.51L377.03 111.20L379.90 111.48L381.13 111.17L384.00 111.39" stroke="#111" stroke-width="1.25" fill="none" stroke-linejoin="round"/>
<path d="M220.10 115.65L221.33 114.62L224.20 113.37L225.43 112.11L228.29 111.60L229.52 110.16L232.39 110.00L233.62 108.28L236.49 108.27L237.72 106.56L240.59 106.61L241.82 105.01L244.69 105.27L245.91 103.67L248.78 103.93L250.01 102.33L252.88 102.59L254.11 100.99L256.98 101.52L258.21 100.08L261.07 100.73L262.30 99.29L265.17 99.93L266.40 98.50L269.27 99.14L270.50 97.75L273.37 98.65L274.60 97.32L277.46 98.22L278.69 96.89L281.56 97.79L282.79 96.46L285.66 97.36L286.89 96.03L289.76 96.93L290.99 95.64L293.86 96.65L295.08 95.37L297.95 96.38L299.18 95.10L302.05 96.12L303.28 94.84L306.15 95.85L307.38 94.57L310.25 95.59L311.47 94.33L314.34 95.38L315.57 94.12L318.44 95.18L319.67 93.92L322.54 94.97L323.77 93.71L326.63 94.77L327.86 93.51L330.73 94.57L331.96 93.32L334.83 94.41L336.06 93.16L338.93 94.24L340.16 92.99L343.02 94.08L344.25 92.83L347.12 93.92L348.35 92.67L351.22 93.76L352.45 92.53L355.32 93.64L356.55 92.41L359.41 93.52L360.64 92.29L363.51 93.40L364.74 92.17L367.61 93.28L368.84 92.05L371.71 93.16L372.94 91.93L375.81 93.04L377.03 91.80L379.90 92.92L381.13 91.68L384.00 92.56" stroke="#111" stroke-width="1.25" fill="none" stroke-linejoin="round"/>
<path d="M220.10 115.83L221.33 111.15L224.20 103.86L225.43 99.69L228.29 96.13L229.52 92.12L232.39 90.35L233.62 86.07L236.49 85.16L237.72 81.21L240.59 80.75L241.82 77.01L244.69 76.95L245.91 73.21L248.78 73.51L250.01 70.02L252.88 70.54L254.11 67.05L256.98 67.81L258.21 64.48L261.07 65.36L262.30 62.07L265.17 63.41L266.40 60.27L269.27 61.62L270.50 58.47L273.37 59.75L274.60 56.59L277.46 57.87L278.69 54.70L281.56 56.36L282.79 53.49L285.66 55.45L286.89 52.58L289.76 54.55L290.99 51.72L293.86 53.81L295.08 50.98L297.95 53.07L299.18 50.25L302.05 52.41L303.28 49.64L306.15 51.84L307.38 49.07L310.25 51.28L311.47 48.55L314.34 50.87L315.57 48.14L318.44 50.46L319.67 47.73L322.54 50.10L323.77 47.40L326.63 49.77L327.86 47.07L330.73 49.44L331.96 46.74L334.83 49.11L336.06 46.42L338.93 48.79L340.16 46.09L343.02 48.49L344.25 45.80L347.12 48.20L348.35 45.52L351.22 47.94L352.45 45.29L355.32 47.75L356.55 45.09L359.41 47.56L360.64 44.90L363.51 47.37L364.74 44.71L367.61 47.22L368.84 44.58L371.71 47.09L372.94 44.45L375.81 46.96L377.03 44.32L379.90 46.83L381.13 44.19L384.00 46.18" stroke="#111" stroke-width="1.25" fill="none" stroke-linejoin="round"/>
<g fill="#fff" stroke="#111" stroke-width="0.6"><circle cx="220.10" cy="116.00" r="1.5"/><circle cx="232.38" cy="115.81" r="1.5"/><circle cx="244.67" cy="115.68" r="1.5"/><circle cx="256.95" cy="115.64" r="1.5"/><circle cx="269.24" cy="115.60" r="1.5"/><circle cx="281.52" cy="115.56" r="1.5"/><circle cx="293.81" cy="115.51" r="1.5"/><circle cx="306.10" cy="115.47" r="1.5"/><circle cx="318.38" cy="115.43" r="1.5"/><circle cx="330.66" cy="115.39" r="1.5"/><circle cx="342.95" cy="115.34" r="1.5"/><circle cx="355.24" cy="115.30" r="1.5"/><circle cx="367.52" cy="115.26" r="1.5"/><circle cx="379.81" cy="115.21" r="1.5"/></g>
<g fill="#fff" stroke="#111" stroke-width="0.6"><circle cx="220.10" cy="115.70" r="1.5"/><circle cx="232.38" cy="114.46" r="1.5"/><circle cx="244.67" cy="113.62" r="1.5"/><circle cx="256.95" cy="112.95" r="1.5"/><circle cx="269.24" cy="112.63" r="1.5"/><circle cx="281.52" cy="112.32" r="1.5"/><circle cx="293.81" cy="112.06" r="1.5"/><circle cx="306.10" cy="111.94" r="1.5"/><circle cx="318.38" cy="111.82" r="1.5"/><circle cx="330.66" cy="111.69" r="1.5"/><circle cx="342.95" cy="111.58" r="1.5"/><circle cx="355.24" cy="111.50" r="1.5"/><circle cx="367.52" cy="111.41" r="1.5"/><circle cx="379.81" cy="111.33" r="1.5"/></g>
<g fill="#fff" stroke="#111" stroke-width="0.6"><circle cx="220.10" cy="115.50" r="1.5"/><circle cx="232.38" cy="109.40" r="1.5"/><circle cx="244.67" cy="104.67" r="1.5"/><circle cx="256.95" cy="100.92" r="1.5"/><circle cx="269.24" cy="98.55" r="1.5"/><circle cx="281.52" cy="97.19" r="1.5"/><circle cx="293.81" cy="96.05" r="1.5"/><circle cx="306.10" cy="95.25" r="1.5"/><circle cx="318.38" cy="94.58" r="1.5"/><circle cx="330.66" cy="93.97" r="1.5"/><circle cx="342.95" cy="93.48" r="1.5"/><circle cx="355.24" cy="93.05" r="1.5"/><circle cx="367.52" cy="92.68" r="1.5"/><circle cx="379.81" cy="92.32" r="1.5"/></g>
<g fill="#fff" stroke="#111" stroke-width="0.6"><circle cx="220.10" cy="115.50" r="1.5"/><circle cx="232.38" cy="89.06" r="1.5"/><circle cx="244.67" cy="75.66" r="1.5"/><circle cx="256.95" cy="66.53" r="1.5"/><circle cx="269.24" cy="60.33" r="1.5"/><circle cx="281.52" cy="55.06" r="1.5"/><circle cx="293.81" cy="52.51" r="1.5"/><circle cx="306.10" cy="50.55" r="1.5"/><circle cx="318.38" cy="49.16" r="1.5"/><circle cx="330.66" cy="48.15" r="1.5"/><circle cx="342.95" cy="47.19" r="1.5"/><circle cx="355.24" cy="46.46" r="1.5"/><circle cx="367.52" cy="45.92" r="1.5"/><circle cx="379.81" cy="45.53" r="1.5"/></g>
<rect x="220.1" y="17.0" width="163.90" height="114.40" fill="none" stroke="#000" stroke-width="0.8"/>
<path d="M220.10 131.4v2.2M220.10 17.0v2.2M240.59 131.4v1.2M240.59 17.0v1.2M261.07 131.4v2.2M261.07 17.0v2.2M281.56 131.4v1.2M281.56 17.0v1.2M302.05 131.4v2.2M302.05 17.0v2.2M322.54 131.4v1.2M322.54 17.0v1.2M343.02 131.4v2.2M343.02 17.0v2.2M363.51 131.4v1.2M363.51 17.0v1.2M384.00 131.4v2.2M384.00 17.0v2.2M220.1 131.40h-2.4M384.0 131.40h-2.4M220.1 118.85h-1.3M384.0 118.85h-1.3M220.1 106.30h-2.4M384.0 106.30h-2.4M220.1 93.75h-1.3M384.0 93.75h-1.3M220.1 81.20h-2.4M384.0 81.20h-2.4M220.1 68.65h-1.3M384.0 68.65h-1.3M220.1 56.10h-2.4M384.0 56.10h-2.4M220.1 43.55h-1.3M384.0 43.55h-1.3M220.1 31.00h-2.4M384.0 31.00h-2.4M220.1 18.45h-1.3M384.0 18.45h-1.3" stroke="#000" stroke-width="0.6" fill="none"/>
<text x="215.80" y="133.70" font-size="6.5" text-anchor="end" font-weight="bold" fill="#000" font-family="Liberation Sans, sans-serif" textLength="9.4" lengthAdjust="spacingAndGlyphs">300</text>
<text x="215.80" y="108.60" font-size="6.5" text-anchor="end" font-weight="bold" fill="#000" font-family="Liberation Sans, sans-serif" textLength="9.4" lengthAdjust="spacingAndGlyphs">350</text>
<text x="215.80" y="83.50" font-size="6.5" text-anchor="end" font-weight="bold" fill="#000" font-family="Liberation Sans, sans-serif" textLength="9.4" lengthAdjust="spacingAndGlyphs">400</text>
<text x="215.80" y="58.40" font-size="6.5" text-anchor="end" font-weight="bold" fill="#000" font-family="Liberation Sans, sans-serif" textLength="9.4" lengthAdjust="spacingAndGlyphs">450</text>
<text x="215.80" y="33.30" font-size="6.5" text-anchor="end" font-weight="bold" fill="#000" font-family="Liberation Sans, sans-serif" textLength="9.4" lengthAdjust="spacingAndGlyphs">500</text>
<text x="220.10" y="141.30" font-size="6.5" text-anchor="middle" font-weight="bold" fill="#000" font-family="Liberation Sans, sans-serif" textLength="8.2" lengthAdjust="spacingAndGlyphs">0.0</text>
<text x="261.07" y="141.30" font-size="6.5" text-anchor="middle" font-weight="bold" fill="#000" font-family="Liberation Sans, sans-serif" textLength="8.2" lengthAdjust="spacingAndGlyphs">0.5</text>
<text x="302.05" y="141.30" font-size="6.5" text-anchor="middle" font-weight="bold" fill="#000" font-family="Liberation Sans, sans-serif" textLength="8.2" lengthAdjust="spacingAndGlyphs">1.0</text>
<text x="343.02" y="141.30" font-size="6.5" text-anchor="middle" font-weight="bold" fill="#000" font-family="Liberation Sans, sans-serif" textLength="8.2" lengthAdjust="spacingAndGlyphs">1.5</text>
<text x="384.00" y="141.30" font-size="6.5" text-anchor="middle" font-weight="bold" fill="#000" font-family="Liberation Sans, sans-serif" textLength="8.2" lengthAdjust="spacingAndGlyphs">2.0</text>
<text x="301.80" y="149.60" font-size="6.8" text-anchor="middle" font-weight="bold" fill="#000" font-family="Liberation Sans, sans-serif" >Time (µs)</text>
<text transform="translate(201.20,75.20) rotate(-90)" font-size="7.0" text-anchor="middle" font-weight="bold" fill="#000" font-family="Liberation Sans, sans-serif" >Temperature (K)</text>
<rect x="223.1" y="22.6" width="62.2" height="27.6" fill="#fff" stroke="#444" stroke-width="0.7"/>
<path d="M225 26.30H238" stroke="#111" stroke-width="1.3"/>
<circle cx="231.5" cy="26.30" r="1.4" fill="#fff" stroke="#111" stroke-width="0.6"/>
<text x="239.60" y="28.10" font-size="5.1" text-anchor="start" font-weight="bold" fill="#000" font-family="Liberation Sans, sans-serif" >max voltage 0.03V</text>
<path d="M225 33.10H238" stroke="#111" stroke-width="1.3"/>
<circle cx="231.5" cy="33.10" r="1.4" fill="#fff" stroke="#111" stroke-width="0.6"/>
<text x="239.60" y="34.90" font-size="5.1" text-anchor="start" font-weight="bold" fill="#000" font-family="Liberation Sans, sans-serif" >max voltage 0.08V</text>
<path d="M225 39.90H238" stroke="#111" stroke-width="1.3"/>
<circle cx="231.5" cy="39.90" r="1.4" fill="#fff" stroke="#111" stroke-width="0.6"/>
<text x="239.60" y="41.70" font-size="5.1" text-anchor="start" font-weight="bold" fill="#000" font-family="Liberation Sans, sans-serif" >max voltage 0.25V</text>
<path d="M225 46.70H238" stroke="#111" stroke-width="1.3"/>
<circle cx="231.5" cy="46.70" r="1.4" fill="#fff" stroke="#111" stroke-width="0.6"/>
<text x="239.60" y="48.50" font-size="5.1" text-anchor="start" font-weight="bold" fill="#000" font-family="Liberation Sans, sans-serif" >max voltage 0.50V</text>
</g>
<g id="pd">
<rect x="406.0" y="24.1" width="126.60" height="111" fill="#8FBF5E"/>
<rect x="406.0" y="24.1" width="126.60" height="8.2" fill="#F6B93B"/>
<rect x="514.2" y="24.1" width="18.40" height="8.2" fill="#F6B93B"/>
<rect x="406.0" y="71.3" width="91.30" height="7.8" fill="#F6B93B"/>
<rect x="514.2" y="71.5" width="18.40" height="7.5" fill="#F6B93B"/>
<rect x="406.0" y="28.4" width="34.5" height="1.9" fill="#CC4B4F"/>
<rect x="452.1" y="28.4" width="37.5" height="1.9" fill="#CC4B4F"/>
<rect x="406.0" y="73.0" width="76.00" height="2.1" fill="#CC4B4F"/>
<rect x="430.2" y="30.3" width="2.6" height="2" fill="#CC4B4F"/><rect x="434.5" y="30.3" width="2.6" height="2" fill="#CC4B4F"/>
<path d="M426.1 32.3H438.8V35.2Q438.8 37.8 436.2 37.8H428.7Q426.1 37.8 426.1 35.2Z" fill="#C9BBE2"/>
<rect x="450.8" y="32.3" width="14.00" height="39" fill="#E4DCC8"/>
<rect x="452.3" y="32.3" width="10.40" height="39" fill="#8FA8D8"/>
<rect x="454.6" y="29.5" width="5.80" height="44.5" fill="#CC4B4F"/>
<rect x="451.7" y="71.3" width="11.60" height="1.9" fill="#CC4B4F"/>
<rect x="456.90" y="30.4" width="1.2" height="1.2" fill="#F6B93B"/><rect x="456.90" y="73.4" width="1.2" height="1.2" fill="#F6B93B"/>
<text transform="translate(458.95,51.50) rotate(-90)" font-size="4.2" text-anchor="middle" font-weight="bold" fill="#000" font-family="Liberation Sans, sans-serif" textLength="19.5" lengthAdjust="spacingAndGlyphs">Signal TSV</text>
<rect x="469.0" y="32.3" width="14.00" height="39" fill="#E4DCC8"/>
<rect x="470.9" y="32.3" width="10.50" height="39" fill="#8FA8D8"/>
<rect x="473.3" y="29.5" width="5.90" height="44.5" fill="#CC4B4F"/>
<rect x="470.29999999999995" y="71.3" width="11.70" height="1.9" fill="#CC4B4F"/>
<rect x="475.65" y="30.4" width="1.2" height="1.2" fill="#F6B93B"/><rect x="475.65" y="73.4" width="1.2" height="1.2" fill="#F6B93B"/>
<text transform="translate(477.70,51.50) rotate(-90)" font-size="4.2" text-anchor="middle" font-weight="bold" fill="#000" font-family="Liberation Sans, sans-serif" textLength="19.5" lengthAdjust="spacingAndGlyphs">Signal TSV</text>
<rect x="497.3" y="24.1" width="16.9" height="110.4" fill="#8FA8D8"/>
<rect x="499.1" y="24.1" width="13.3" height="110.4" fill="#CC4B4F"/>
<text transform="translate(507.50,84.20) rotate(-90)" font-size="6.2" text-anchor="middle" font-weight="bold" fill="#000" font-family="Liberation Sans, sans-serif" textLength="55" lengthAdjust="spacingAndGlyphs">Dummy Thermal TSV</text>
<path d="M452.7 75L447 83.6M463.3 75L472.4 85.5M467.3 75L472.4 85.5" stroke="#8FB8C8" stroke-width="0.5" fill="none"/>
<circle cx="447" cy="83.8" r="0.8" fill="#7FB0C8"/><circle cx="472.4" cy="85.6" r="0.8" fill="#7FB0C8"/>
<rect x="406.0" y="134.4" width="126.60" height="25.2" fill="#1F3A68"/>
<g fill="#fff"><rect x="409.80" y="152" width="3.9" height="7.8"/><rect x="418.00" y="152" width="3.9" height="7.8"/><rect x="426.20" y="152" width="3.9" height="7.8"/><rect x="434.40" y="152" width="3.9" height="7.8"/><rect x="442.60" y="152" width="3.9" height="7.8"/><rect x="450.80" y="152" width="3.9" height="7.8"/><rect x="459.00" y="152" width="3.9" height="7.8"/><rect x="467.20" y="152" width="3.9" height="7.8"/><rect x="475.40" y="152" width="3.9" height="7.8"/><rect x="483.60" y="152" width="3.9" height="7.8"/><rect x="491.80" y="152" width="3.9" height="7.8"/><rect x="500.00" y="152" width="3.9" height="7.8"/><rect x="508.20" y="152" width="3.9" height="7.8"/><rect x="516.40" y="152" width="3.9" height="7.8"/><rect x="524.60" y="152" width="3.9" height="7.8"/></g>
<text x="418.50" y="28.30" font-size="6.3" text-anchor="start" font-weight="bold" fill="#000" font-family="Liberation Sans, sans-serif" textLength="12.0" lengthAdjust="spacingAndGlyphs">GND</text>
<text x="471.80" y="28.10" font-size="6.3" text-anchor="start" font-weight="bold" fill="#000" font-family="Liberation Sans, sans-serif" textLength="17.2" lengthAdjust="spacingAndGlyphs">Signal</text>
<text x="516.50" y="31.80" font-size="6.4" text-anchor="start" font-weight="bold" fill="#000" font-family="Liberation Sans, sans-serif" textLength="14.8" lengthAdjust="spacingAndGlyphs">BEOL</text>
<text x="516.50" y="78.90" font-size="6.4" text-anchor="start" font-weight="bold" fill="#000" font-family="Liberation Sans, sans-serif" textLength="14.8" lengthAdjust="spacingAndGlyphs">BEOL</text>
<text x="408.20" y="51.40" font-size="6.0" text-anchor="start" font-weight="bold" fill="#000" font-family="Liberation Sans, sans-serif" textLength="14.0" lengthAdjust="spacingAndGlyphs">Tier 1</text>
<text x="408.20" y="58.60" font-size="6.0" text-anchor="start" font-weight="bold" fill="#000" font-family="Liberation Sans, sans-serif" textLength="25.6" lengthAdjust="spacingAndGlyphs">Substrate</text>
<text x="408.20" y="104.80" font-size="6.0" text-anchor="start" font-weight="bold" fill="#000" font-family="Liberation Sans, sans-serif" textLength="14.0" lengthAdjust="spacingAndGlyphs">Tier 0</text>
<text x="408.20" y="112.40" font-size="6.0" text-anchor="start" font-weight="bold" fill="#000" font-family="Liberation Sans, sans-serif" textLength="25.6" lengthAdjust="spacingAndGlyphs">Substrate</text>
<text x="439.10" y="92.60" font-size="5.9" text-anchor="start" font-weight="bold" fill="#000" font-family="Liberation Sans, sans-serif" textLength="24.4" lengthAdjust="spacingAndGlyphs">Depletion</text>
<text x="439.10" y="100.60" font-size="5.9" text-anchor="start" font-weight="bold" fill="#000" font-family="Liberation Sans, sans-serif" textLength="18.2" lengthAdjust="spacingAndGlyphs">Region</text>
<text x="470.20" y="92.20" font-size="5.9" text-anchor="start" font-weight="bold" fill="#000" font-family="Liberation Sans, sans-serif" textLength="13.0" lengthAdjust="spacingAndGlyphs">Liner</text>
<text x="469.90" y="145.80" font-size="6.8" text-anchor="middle" font-weight="bold" fill="#fff" font-family="Liberation Sans, sans-serif" textLength="30.5" lengthAdjust="spacingAndGlyphs">Heat Sink</text>
</g>
<defs>
<filter id="bl1" x="-5%" y="-5%" width="110%" height="110%"><feGaussianBlur stdDeviation="0.45"/></filter>
<filter id="bl2" x="-10%" y="-10%" width="120%" height="120%"><feGaussianBlur stdDeviation="1.6"/></filter>
<filter id="bl3" x="-10%" y="-10%" width="120%" height="120%"><feGaussianBlur stdDeviation="0.9"/></filter>
<linearGradient id="jet" x1="0" y1="0" x2="0" y2="1"><stop offset="0" stop-color="#D21A1A"/><stop offset="0.12" stop-color="#DE1E1C"/><stop offset="0.25" stop-color="#EC2A1A"/><stop offset="0.34" stop-color="#F65A18"/><stop offset="0.41" stop-color="#FA9A1C"/><stop offset="0.47" stop-color="#F6DE22"/><stop offset="0.53" stop-color="#B4EA54"/><stop offset="0.59" stop-color="#58E6A4"/><stop offset="0.66" stop-color="#2CD2E6"/><stop offset="0.73" stop-color="#2A92F2"/><stop offset="0.80" stop-color="#2244EA"/><stop offset="0.89" stop-color="#2A1CC4"/><stop offset="1" stop-color="#2412AE"/></linearGradient>
<linearGradient id="jetbar" x1="0" y1="0" x2="0" y2="1"><stop offset="0" stop-color="#8A0000"/><stop offset="0.12" stop-color="#E01010"/><stop offset="0.25" stop-color="#F84A10"/><stop offset="0.36" stop-color="#FCA010"/><stop offset="0.45" stop-color="#F4EC20"/><stop offset="0.55" stop-color="#90F070"/><stop offset="0.65" stop-color="#30E0D8"/><stop offset="0.75" stop-color="#1C80F8"/><stop offset="0.87" stop-color="#1420E0"/><stop offset="1" stop-color="#1408A0"/></linearGradient>
<linearGradient id="tbar" x1="0" y1="0" x2="0" y2="1"><stop offset="0" stop-color="#F02010"/><stop offset="0.12" stop-color="#FA8A10"/><stop offset="0.25" stop-color="#F4EC30"/><stop offset="0.48" stop-color="#60E880"/><stop offset="0.70" stop-color="#30D0F0"/><stop offset="0.92" stop-color="#2848F0"/><stop offset="1" stop-color="#2A30E8"/></linearGradient>
<clipPath id="c3main"><rect x="359.5" y="185.3" width="165" height="92.6"/></clipPath>
<clipPath id="c3bot"><rect x="359.5" y="280" width="165" height="20.4"/></clipPath>
<clipPath id="c1clip"><rect x="6.7" y="190.5" width="160" height="119.6"/></clipPath>
</defs>
<g id="c1" clip-path="url(#c1clip)">
<rect x="6.7" y="190.5" width="160" height="119.6" fill="#F7F7E4"/>
<g filter="url(#bl1)">
<path d="M56.8 193.6L162.0 191.3L162.0 263.49L56.8 305.75Z" fill="#E38C24"/>
<path d="M57.4 194.4V207.8M60.2 194.3V207.5M62.9 194.3V207.3M65.7 194.2V207.1M68.4 194.2V206.9M71.1 194.1V206.7M73.8 194.0V206.4M76.5 194.0V206.2M79.2 193.9V206.0M81.9 193.9V205.8M84.6 193.8V205.5M87.2 193.7V205.3M89.9 193.7V205.1M92.6 193.6V204.9M95.2 193.6V204.7M97.8 193.5V204.5M100.5 193.5V204.2M103.1 193.4V204.0M105.7 193.3V203.8M108.3 193.3V203.6M110.9 193.2V203.4M113.5 193.2V203.2M116.1 193.1V203.0M118.7 193.1V202.7M121.3 193.0V202.5M123.8 192.9V202.3M126.4 192.9V202.1M128.9 192.8V201.9M131.5 192.8V201.7M134.0 192.7V201.5M136.6 192.7V201.3M139.1 192.6V201.1M141.6 192.6V200.9M144.1 192.5V200.7M146.6 192.4V200.5M149.1 192.4V200.2M151.6 192.3V200.0M154.1 192.3V199.8M156.5 192.2V199.6M159.0 192.2V199.4M161.5 192.1V199.2M89.8 205.6V213.1M92.6 205.4V212.8M95.3 205.2V212.5M98.0 204.9V212.2M100.7 204.7V211.9M103.4 204.5V211.6M106.1 204.3V211.3M108.8 204.1V211.0M111.5 203.8V210.7M114.1 203.6V210.4M116.8 203.4V210.1M119.4 203.2V209.8M122.1 203.0V209.5M124.7 202.8V209.2M127.3 202.5V209.0M129.9 202.3V208.7M132.5 202.1V208.4M135.0 201.9V208.1M137.6 201.7V207.8M140.1 201.5V207.5M142.7 201.3V207.2M145.2 201.1V207.0M147.7 200.9V206.7M150.2 200.7V206.4M152.7 200.4V206.1M155.2 200.2V205.8M157.7 200.0V205.6M160.2 199.8V205.3M107.7 211.6V218.6M110.5 211.3V218.2M113.2 211.0V217.8M115.9 210.7V217.5M118.6 210.4V217.1M121.3 210.1V216.7M124.0 209.8V216.3M126.6 209.5V216.0M129.2 209.2V215.6M131.9 208.9V215.2M134.5 208.6V214.9M137.1 208.4V214.5M139.7 208.1V214.1M142.2 207.8V213.8M144.8 207.5V213.4M147.3 207.2V213.0M149.9 206.9V212.7M152.4 206.7V212.3M154.9 206.4V212.0M157.4 206.1V211.6M159.9 205.8V211.3M117.6 217.7V224.4M120.3 217.3V223.9M123.1 217.0V223.5M125.8 216.6V223.0M128.5 216.2V222.6M131.2 215.8V222.1M133.8 215.4V221.7M136.5 215.1V221.2M139.1 214.7V220.8M141.7 214.3V220.3M144.3 214.0V219.9M146.8 213.6V219.5M149.4 213.3V219.0M151.9 212.9V218.6M154.4 212.6V218.2M156.9 212.2V217.7M159.4 211.9V217.3M124.8 223.7V230.2M127.6 223.2V229.6M130.3 222.8V229.1M133.0 222.3V228.6M135.7 221.9V228.0M138.3 221.4V227.5M141.0 221.0V227.0M143.6 220.5V226.4M146.2 220.1V225.9M148.8 219.6V225.4M151.3 219.2V224.9M153.9 218.8V224.4M156.4 218.3V223.9M158.9 217.9V223.4M161.3 217.5V222.9M132.1 229.2V235.5M134.8 228.7V234.9M137.5 228.2V234.3M140.2 227.6V233.7M142.8 227.1V233.1M145.4 226.6V232.5M148.0 226.1V231.9M150.6 225.6V231.3M153.2 225.0V230.7M155.7 224.5V230.1M158.2 224.0V229.6M160.7 223.6V229.0M136.5 235.0V241.1M139.2 234.4V240.4M141.9 233.8V239.8M144.6 233.2V239.1M147.2 232.6V238.4M149.8 232.0V237.7M152.4 231.4V237.1M154.9 230.8V236.4M157.5 230.2V235.8M160.0 229.7V235.1M138.2 241.2V247.3M140.9 240.5V246.5M143.6 239.8V245.8M146.3 239.1V245.0M148.9 238.5V244.2M151.5 237.8V243.5M154.1 237.1V242.8M156.6 236.5V242.0M159.1 235.8V241.3M161.6 235.2V240.6M139.8 247.4V253.4M142.5 246.6V252.5M145.2 245.8V251.7M147.9 245.0V250.8M150.5 244.3V250.0M153.1 243.5V249.2M155.7 242.8V248.4M158.2 242.1V247.6M160.7 241.4V246.8M144.1 252.6V258.5M146.8 251.7V257.5M149.4 250.9V256.6M152.1 250.0V255.7M154.7 249.2V254.8M157.2 248.4V253.9M159.7 247.6V253.1M145.6 258.5V264.3M148.3 257.5V263.3M150.9 256.6V262.3M153.6 255.7V261.4M156.1 254.8V260.4M158.7 253.9V259.4M161.2 253.1V258.5M147.0 264.3V270.1M149.7 263.3V269.1M152.4 262.3V268.0M155.0 261.3V266.9M157.5 260.4V265.9M160.1 259.4V264.9" stroke="#7A4A0E" stroke-width="1.15" fill="none"/>
<path d="M58.8 194.4V207.8M61.5 194.3V207.5M64.3 194.3V207.3M67.0 194.2V207.1M69.7 194.2V206.9M72.4 194.1V206.7M75.2 194.0V206.4M77.9 194.0V206.2M80.5 193.9V206.0M83.2 193.9V205.8M85.9 193.8V205.5M88.6 193.7V205.3M91.2 193.7V205.1M93.9 193.6V204.9M96.5 193.6V204.7M99.2 193.5V204.5M101.8 193.5V204.2M104.4 193.4V204.0M107.0 193.3V203.8M109.6 193.3V203.6M112.2 193.2V203.4M114.8 193.2V203.2M117.4 193.1V203.0M120.0 193.1V202.7M122.6 193.0V202.5M125.1 192.9V202.3M127.7 192.9V202.1M130.2 192.8V201.9M132.8 192.8V201.7M135.3 192.7V201.5M137.8 192.7V201.3M140.3 192.6V201.1M142.8 192.6V200.9M145.4 192.5V200.7M147.9 192.4V200.5M150.3 192.4V200.2M152.8 192.3V200.0M155.3 192.3V199.8M157.8 192.2V199.6M160.2 192.2V199.4M162.7 192.1V199.2M91.2 205.6V213.1M93.9 205.4V212.8M96.7 205.2V212.5M99.4 204.9V212.2M102.1 204.7V211.9M104.8 204.5V211.6M107.5 204.3V211.3M110.2 204.1V211.0M112.8 203.8V210.7M115.5 203.6V210.4M118.1 203.4V210.1M120.7 203.2V209.8M123.4 203.0V209.5M126.0 202.8V209.2M128.6 202.5V209.0M131.2 202.3V208.7M133.7 202.1V208.4M136.3 201.9V208.1M138.9 201.7V207.8M141.4 201.5V207.5M143.9 201.3V207.2M146.5 201.1V207.0M149.0 200.9V206.7M151.5 200.7V206.4M154.0 200.4V206.1M156.5 200.2V205.8M158.9 200.0V205.6M161.4 199.8V205.3M109.1 211.6V218.6M111.8 211.3V218.2M114.5 211.0V217.8M117.2 210.7V217.5M119.9 210.4V217.1M122.6 210.1V216.7M125.3 209.8V216.3M127.9 209.5V216.0M130.6 209.2V215.6M133.2 208.9V215.2M135.8 208.6V214.9M138.4 208.4V214.5M141.0 208.1V214.1M143.5 207.8V213.8M146.1 207.5V213.4M148.6 207.2V213.0M151.1 206.9V212.7M153.6 206.7V212.3M156.1 206.4V212.0M158.6 206.1V211.6M161.1 205.8V211.3M119.0 217.7V224.4M121.7 217.3V223.9M124.4 217.0V223.5M127.1 216.6V223.0M129.8 216.2V222.6M132.5 215.8V222.1M135.1 215.4V221.7M137.8 215.1V221.2M140.4 214.7V220.8M143.0 214.3V220.3M145.5 214.0V219.9M148.1 213.6V219.5M150.7 213.3V219.0M153.2 212.9V218.6M155.7 212.6V218.2M158.2 212.2V217.7M160.7 211.9V217.3M126.2 223.7V230.2M128.9 223.2V229.6M131.7 222.8V229.1M134.3 222.3V228.6M137.0 221.9V228.0M139.7 221.4V227.5M142.3 221.0V227.0M144.9 220.5V226.4M147.5 220.1V225.9M150.1 219.6V225.4M152.6 219.2V224.9M155.1 218.8V224.4M157.6 218.3V223.9M160.1 217.9V223.4M162.6 217.5V222.9M133.4 229.2V235.5M136.1 228.7V234.9M138.8 228.2V234.3M141.5 227.6V233.7M144.1 227.1V233.1M146.7 226.6V232.5M149.3 226.1V231.9M151.9 225.6V231.3M154.4 225.0V230.7M157.0 224.5V230.1M159.5 224.0V229.6M161.9 223.6V229.0M137.9 235.0V241.1M140.6 234.4V240.4M143.2 233.8V239.8M145.9 233.2V239.1M148.5 232.6V238.4M151.1 232.0V237.7M153.7 231.4V237.1M156.2 230.8V236.4M158.7 230.2V235.8M161.2 229.7V235.1M139.5 241.2V247.3M142.2 240.5V246.5M144.9 239.8V245.8M147.6 239.1V245.0M150.2 238.5V244.2M152.8 237.8V243.5M155.4 237.1V242.8M157.9 236.5V242.0M160.4 235.8V241.3M162.8 235.2V240.6M141.1 247.4V253.4M143.9 246.6V252.5M146.6 245.8V251.7M149.2 245.0V250.8M151.8 244.3V250.0M154.4 243.5V249.2M157.0 242.8V248.4M159.5 242.1V247.6M162.0 241.4V246.8M145.4 252.6V258.5M148.1 251.7V257.5M150.8 250.9V256.6M153.4 250.0V255.7M155.9 249.2V254.8M158.5 248.4V253.9M161.0 247.6V253.1M146.9 258.5V264.3M149.6 257.5V263.3M152.2 256.6V262.3M154.8 255.7V261.4M157.4 254.8V260.4M159.9 253.9V259.4M162.4 253.1V258.5M148.4 264.3V270.1M151.0 263.3V269.1M153.7 262.3V268.0M156.3 261.3V266.9M158.8 260.4V265.9M161.3 259.4V264.9" stroke="#F2AC48" stroke-width="0.45" fill="none"/>
<path d="M58.8 208.2V216.6M61.7 207.9V216.2M64.6 207.7V215.9M67.4 207.5V215.6M70.3 207.2V215.3M73.1 207.0V215.0M75.9 206.8V214.7M78.7 206.5V214.4M81.5 206.3V214.0M84.3 206.1V213.7M87.1 205.8V213.4M58.7 217.1V225.5M61.7 216.7V225.1M64.7 216.4V224.6M67.7 216.1V224.2M70.6 215.8V223.8M73.6 215.4V223.4M76.5 215.1V223.0M79.4 214.8V222.6M82.3 214.5V222.2M85.2 214.1V221.8M88.1 213.8V221.4M90.9 213.5V221.0M93.8 213.2V220.6M96.6 212.9V220.2M99.4 212.6V219.8M102.2 212.2V219.4M104.9 211.9V219.0M58.6 226.0V234.4M61.7 225.6V233.9M64.9 225.1V233.3M68.0 224.7V232.8M71.0 224.3V232.3M74.1 223.8V231.8M77.1 223.4V231.3M80.2 223.0V230.8M83.1 222.6V230.3M86.1 222.1V229.7M89.1 221.7V229.2M92.0 221.3V228.7M94.9 220.9V228.3M97.8 220.5V227.8M100.7 220.1V227.3M103.6 219.7V226.8M106.4 219.3V226.3M109.2 218.9V225.8M112.1 218.5V225.4M114.8 218.1V224.9M65.0 233.8V242.1M68.2 233.3V241.4M71.4 232.7V240.8M74.6 232.2V240.1M77.7 231.7V239.5M80.9 231.1V238.9M84.0 230.6V238.3M87.0 230.1V237.7M90.1 229.6V237.1M93.1 229.1V236.5M96.1 228.6V235.9M99.1 228.1V235.3M102.0 227.6V234.7M105.0 227.1V234.1M107.9 226.6V233.5M110.8 226.1V233.0M113.6 225.6V232.4M116.5 225.1V231.8M119.3 224.6V231.3M122.1 224.2V230.7M78.4 239.9V247.7M81.6 239.3V247.0M84.8 238.6V246.3M87.9 238.0V245.6M91.1 237.4V244.8M94.2 236.8V244.1M97.3 236.1V243.4M100.3 235.5V242.7M103.3 234.9V242.0M106.3 234.3V241.4M109.3 233.8V240.7M112.2 233.2V240.0M115.1 232.6V239.4M118.0 232.0V238.7M120.9 231.5V238.1M123.7 230.9V237.4M126.5 230.3V236.8M129.3 229.8V236.1M88.8 245.9V253.4M92.1 245.1V252.6M95.2 244.4V251.7M98.4 243.7V250.9M101.5 243.0V250.1M104.6 242.3V249.3M107.7 241.6V248.5M110.7 240.9V247.8M113.7 240.2V247.0M116.6 239.5V246.2M119.6 238.9V245.5M122.5 238.2V244.7M125.3 237.5V244.0M128.2 236.9V243.3M131.0 236.3V242.6M133.8 235.6V241.8M96.3 252.0V259.3M99.5 251.1V258.4M102.7 250.3V257.5M105.9 249.5V256.5M109.0 248.7V255.7M112.1 247.9V254.8M115.1 247.1V253.9M118.1 246.4V253.1M121.1 245.6V252.2M124.0 244.9V251.4M126.9 244.1V250.5M129.8 243.4V249.7M132.6 242.6V248.9M135.4 241.9V248.1M103.9 257.6V264.7M107.1 256.7V263.7M110.3 255.8V262.7M113.4 254.9V261.7M116.5 254.0V260.7M119.5 253.1V259.8M122.5 252.3V258.8M125.5 251.4V257.9M128.4 250.6V257.0M131.3 249.8V256.1M134.2 249.0V255.2M137.0 248.2V254.3M108.3 263.8V270.8M111.5 262.8V269.7M114.7 261.8V268.6M117.8 260.8V267.5M120.9 259.8V266.4M124.0 258.9V265.4M127.0 257.9V264.4M129.9 257.0V263.3M132.8 256.1V262.3M135.7 255.2V261.4M138.5 254.3V260.4M141.3 253.4V259.4M112.8 269.8V276.6M116.0 268.6V275.4M119.2 267.5V274.2M122.3 266.5V273.0M125.4 265.4V271.9M128.4 264.4V270.8M131.4 263.4V269.6M134.3 262.3V268.5M137.2 261.3V267.5M140.0 260.4V266.4M142.8 259.4V265.4M117.3 275.4V282.1M120.5 274.2V280.8M123.6 273.0V279.6M126.7 271.9V278.3M129.8 270.7V277.1M132.8 269.6V275.9M135.7 268.5V274.7M138.6 267.4V273.5M141.5 266.4V272.4M144.2 265.3V271.2" stroke="#7A4A0E" stroke-width="1.38" fill="none"/>
<path d="M60.3 208.2V216.6M63.1 207.9V216.2M66.0 207.7V215.9M68.8 207.5V215.6M71.7 207.2V215.3M74.5 207.0V215.0M77.3 206.8V214.7M80.1 206.5V214.4M82.9 206.3V214.0M85.7 206.1V213.7M88.4 205.8V213.4M60.2 217.1V225.5M63.2 216.7V225.1M66.2 216.4V224.6M69.2 216.1V224.2M72.1 215.8V223.8M75.1 215.4V223.4M78.0 215.1V223.0M80.9 214.8V222.6M83.8 214.5V222.2M86.6 214.1V221.8M89.5 213.8V221.4M92.3 213.5V221.0M95.2 213.2V220.6M98.0 212.9V220.2M100.8 212.6V219.8M103.6 212.2V219.4M106.3 211.9V219.0M60.2 226.0V234.4M63.3 225.6V233.9M66.4 225.1V233.3M69.5 224.7V232.8M72.6 224.3V232.3M75.6 223.8V231.8M78.6 223.4V231.3M81.7 223.0V230.8M84.6 222.6V230.3M87.6 222.1V229.7M90.6 221.7V229.2M93.5 221.3V228.7M96.4 220.9V228.3M99.3 220.5V227.8M102.2 220.1V227.3M105.0 219.7V226.8M107.8 219.3V226.3M110.7 218.9V225.8M113.4 218.5V225.4M116.2 218.1V224.9M66.6 233.8V242.1M69.8 233.3V241.4M73.0 232.7V240.8M76.2 232.2V240.1M79.3 231.7V239.5M82.4 231.1V238.9M85.5 230.6V238.3M88.6 230.1V237.7M91.6 229.6V237.1M94.6 229.1V236.5M97.6 228.6V235.9M100.6 228.1V235.3M103.5 227.6V234.7M106.4 227.1V234.1M109.3 226.6V233.5M112.2 226.1V233.0M115.0 225.6V232.4M117.9 225.1V231.8M120.7 224.6V231.3M123.4 224.2V230.7M80.0 239.9V247.7M83.2 239.3V247.0M86.4 238.6V246.3M89.5 238.0V245.6M92.6 237.4V244.8M95.7 236.8V244.1M98.8 236.1V243.4M101.8 235.5V242.7M104.8 234.9V242.0M107.8 234.3V241.4M110.8 233.8V240.7M113.7 233.2V240.0M116.6 232.6V239.4M119.5 232.0V238.7M122.3 231.5V238.1M125.1 230.9V237.4M127.9 230.3V236.8M130.7 229.8V236.1M90.4 245.9V253.4M93.7 245.1V252.6M96.8 244.4V251.7M100.0 243.7V250.9M103.1 243.0V250.1M106.1 242.3V249.3M109.2 241.6V248.5M112.2 240.9V247.8M115.2 240.2V247.0M118.1 239.5V246.2M121.0 238.9V245.5M123.9 238.2V244.7M126.8 237.5V244.0M129.6 236.9V243.3M132.4 236.3V242.6M135.1 235.6V241.8M97.9 252.0V259.3M101.1 251.1V258.4M104.3 250.3V257.5M107.4 249.5V256.5M110.5 248.7V255.7M113.6 247.9V254.8M116.6 247.1V253.9M119.6 246.4V253.1M122.5 245.6V252.2M125.5 244.9V251.4M128.3 244.1V250.5M131.2 243.4V249.7M134.0 242.6V248.9M136.8 241.9V248.1M105.5 257.6V264.7M108.7 256.7V263.7M111.8 255.8V262.7M114.9 254.9V261.7M118.0 254.0V260.7M121.0 253.1V259.8M124.0 252.3V258.8M127.0 251.4V257.9M129.9 250.6V257.0M132.7 249.8V256.1M135.6 249.0V255.2M138.4 248.2V254.3M109.9 263.8V270.8M113.1 262.8V269.7M116.3 261.8V268.6M119.4 260.8V267.5M122.4 259.8V266.4M125.5 258.9V265.4M128.4 257.9V264.4M131.4 257.0V263.3M134.3 256.1V262.3M137.1 255.2V261.4M139.9 254.3V260.4M142.7 253.4V259.4M114.4 269.8V276.6M117.6 268.6V275.4M120.7 267.5V274.2M123.8 266.5V273.0M126.9 265.4V271.9M129.9 264.4V270.8M132.8 263.4V269.6M135.7 262.3V268.5M138.6 261.3V267.5M141.4 260.4V266.4M144.2 259.4V265.4M118.9 275.4V282.1M122.0 274.2V280.8M125.2 273.0V279.6M128.2 271.9V278.3M131.3 270.7V277.1M134.2 269.6V275.9M137.2 268.5V274.7M140.0 267.4V273.5M142.9 266.4V272.4M145.6 265.3V271.2" stroke="#F2AC48" stroke-width="0.54" fill="none"/>
<path d="M58.5 234.9V243.3M61.8 234.4V242.7M58.4 243.9V252.3M61.8 243.2V251.5M65.1 242.5V250.7M68.5 241.9V250.0M71.8 241.2V249.2M75.1 240.5V248.5M58.2 252.8V261.2M61.8 252.0V260.3M65.3 251.2V259.4M68.8 250.4V258.5M72.2 249.6V257.7M75.6 248.9V256.8M79.0 248.1V255.9M82.3 247.3V255.1M85.6 246.6V254.2M58.1 261.8V270.2M61.8 260.8V269.1M65.4 259.9V268.1M69.0 259.0V267.1M72.6 258.1V266.1M76.1 257.2V265.1M79.6 256.3V264.1M83.0 255.4V263.1M86.4 254.5V262.1M89.7 253.7V261.2M93.0 252.8V260.2M65.6 268.6V276.8M69.3 267.5V275.6M73.0 266.5V274.4M76.6 265.4V273.3M80.2 264.4V272.2M83.7 263.4V271.1M87.2 262.4V270.0M90.6 261.4V268.9M94.0 260.4V267.8M97.3 259.5V266.8M100.6 258.5V265.7M73.4 274.8V282.8M77.1 273.7V281.5M80.8 272.5V280.3M84.4 271.4V279.0M88.0 270.2V277.8M91.5 269.1V276.6M94.9 268.0V275.4M98.3 267.0V274.2M101.7 265.9V273.1M105.0 264.9V271.9M81.4 280.6V288.3M85.1 279.3V286.9M88.7 278.0V285.6M92.3 276.8V284.2M95.9 275.6V282.9M99.4 274.4V281.6M102.8 273.2V280.3M106.2 272.0V279.0M109.5 270.9V277.8M89.5 285.8V293.3M93.2 284.4V291.8M96.8 283.1V290.4M100.4 281.7V288.9M103.9 280.4V287.5M107.3 279.1V286.1M110.7 277.9V284.8M114.0 276.6V283.4" stroke="#7A4A0E" stroke-width="1.61" fill="none"/>
<path d="M60.1 234.9V243.3M63.4 234.4V242.7M60.1 243.9V252.3M63.5 243.2V251.5M66.8 242.5V250.7M70.2 241.9V250.0M73.5 241.2V249.2M76.7 240.5V248.5M60.0 252.8V261.2M63.5 252.0V260.3M67.0 251.2V259.4M70.5 250.4V258.5M73.9 249.6V257.7M77.3 248.9V256.8M80.6 248.1V255.9M83.9 247.3V255.1M87.2 246.6V254.2M60.0 261.8V270.2M63.6 260.8V269.1M67.2 259.9V268.1M70.8 259.0V267.1M74.3 258.1V266.1M77.8 257.2V265.1M81.3 256.3V264.1M84.7 255.4V263.1M88.1 254.5V262.1M91.4 253.7V261.2M94.7 252.8V260.2M67.5 268.6V276.8M71.1 267.5V275.6M74.8 266.5V274.4M78.4 265.4V273.3M81.9 264.4V272.2M85.4 263.4V271.1M88.9 262.4V270.0M92.3 261.4V268.9M95.7 260.4V267.8M99.0 259.5V266.8M102.3 258.5V265.7M75.2 274.8V282.8M78.9 273.7V281.5M82.6 272.5V280.3M86.2 271.4V279.0M89.7 270.2V277.8M93.2 269.1V276.6M96.6 268.0V275.4M100.0 267.0V274.2M103.4 265.9V273.1M106.7 264.9V271.9M83.2 280.6V288.3M86.9 279.3V286.9M90.5 278.0V285.6M94.1 276.8V284.2M97.6 275.6V282.9M101.1 274.4V281.6M104.5 273.2V280.3M107.8 272.0V279.0M111.1 270.9V277.8M91.3 285.8V293.3M95.0 284.4V291.8M98.6 283.1V290.4M102.1 281.7V288.9M105.6 280.4V287.5M109.0 279.1V286.1M112.3 277.9V284.8M115.6 276.6V283.4" stroke="#F2AC48" stroke-width="0.63" fill="none"/>
<path d="M58.0 270.7V279.2M61.8 269.6V278.0M57.9 279.7V288.1M61.9 278.5V286.8M65.7 277.2V285.4M69.6 276.0V284.1M57.8 288.7V297.1M61.9 287.3V295.6M65.9 285.9V294.1M69.9 284.5V292.6M73.7 283.2V291.2M77.6 281.9V289.7M57.7 297.7V306.1M61.9 296.1V304.4M66.0 294.5V302.7M70.1 293.0V301.1M74.1 291.5V299.5M78.1 290.0V297.9M81.9 288.6V296.3M85.8 287.2V294.8" stroke="#7A4A0E" stroke-width="1.84" fill="none"/>
<path d="M59.9 270.7V279.2M63.7 269.6V278.0M59.9 279.7V288.1M63.8 278.5V286.8M67.7 277.2V285.4M71.5 276.0V284.1M59.8 288.7V297.1M63.9 287.3V295.6M67.9 285.9V294.1M71.8 284.5V292.6M75.7 283.2V291.2M79.5 281.9V289.7M59.8 297.7V306.1M64.0 296.1V304.4M68.1 294.5V302.7M72.1 293.0V301.1M76.1 291.5V299.5M80.0 290.0V297.9M83.9 288.6V296.3M87.6 287.2V294.8" stroke="#F2AC48" stroke-width="0.72" fill="none"/>
<path d="M35.6 193.5L56.8 193.6L56.8 269.95L36.2 255.54Z" fill="#D08826"/>
<g stroke="#7A4A0E" fill="none"><path d="M36.40 193.6V255.68" stroke-width="1.0"/><path d="M39.10 193.6V257.57" stroke-width="1.0"/><path d="M41.80 193.6V259.46" stroke-width="1.0"/><path d="M44.50 193.6V261.35" stroke-width="1.0"/><path d="M47.20 193.6V263.24" stroke-width="1.0"/><path d="M49.90 193.6V265.12" stroke-width="1.0"/><path d="M52.60 193.6V267.01" stroke-width="1.0"/><path d="M55.30 193.6V268.90" stroke-width="1.0"/></g>
<path d="M30.40 202.00L56.8 207.30L56.8 209.90L31.00 204.10Z" fill="#17AA3C"/>
<path d="M56.8 207.30L165.2 198.40L165.2 199.80L56.8 208.90Z" fill="#17AA3C"/>
<path d="M56.8 208.90L162.0 200.06L162.0 201.06L56.8 210.70Z" fill="#2A1A04" opacity="0.7"/>
<path d="M31.23 209.30L56.8 216.25L56.8 215.05L33.18 208.75Z" fill="#0B6420"/>
<path d="M30.73 209.30L56.8 216.25L56.8 218.75L31.33 211.30Z" fill="#17AA3C"/>
<path d="M56.8 216.22L165.2 204.19L165.2 205.60L56.8 217.90Z" fill="#17AA3C"/>
<path d="M56.8 217.90L162.0 205.96L162.0 206.96L56.8 219.70Z" fill="#2A1A04" opacity="0.7"/>
<path d="M31.56 216.60L56.8 225.20L56.8 223.00L33.96 215.61Z" fill="#0B6420"/>
<path d="M31.06 216.60L56.8 225.20L56.8 227.60L31.66 218.50Z" fill="#17AA3C"/>
<path d="M56.8 225.14L165.2 209.97L165.2 211.40L56.8 226.90Z" fill="#17AA3C"/>
<path d="M56.8 226.90L162.0 211.85L162.0 212.85L56.8 228.70Z" fill="#2A1A04" opacity="0.7"/>
<path d="M31.89 223.90L56.8 234.15L56.8 230.95L34.74 222.47Z" fill="#0B6420"/>
<path d="M31.39 223.90L56.8 234.15L56.8 236.45L31.99 225.70Z" fill="#17AA3C"/>
<path d="M56.8 234.06L165.2 215.76L165.2 217.20L56.8 235.90Z" fill="#17AA3C"/>
<path d="M56.8 235.90L162.0 217.74L162.0 218.74L56.8 237.70Z" fill="#2A1A04" opacity="0.7"/>
<path d="M32.22 231.20L56.8 243.10L56.8 238.90L35.52 229.33Z" fill="#0B6420"/>
<path d="M31.72 231.20L56.8 243.10L56.8 245.30L32.32 232.90Z" fill="#17AA3C"/>
<path d="M56.8 242.98L165.2 221.54L165.2 223.00L56.8 244.90Z" fill="#17AA3C"/>
<path d="M56.8 244.90L162.0 223.63L162.0 224.63L56.8 246.70Z" fill="#2A1A04" opacity="0.7"/>
<path d="M32.55 238.50L56.8 252.05L56.8 246.85L36.30 236.19Z" fill="#0B6420"/>
<path d="M32.05 238.50L56.8 252.05L56.8 254.15L32.65 240.10Z" fill="#17AA3C"/>
<path d="M56.8 251.90L165.2 227.33L165.2 228.80L56.8 253.90Z" fill="#17AA3C"/>
<path d="M56.8 253.90L162.0 229.53L162.0 230.53L56.8 255.70Z" fill="#2A1A04" opacity="0.7"/>
<path d="M32.88 245.80L56.8 261.00L56.8 254.80L37.08 243.05Z" fill="#0B6420"/>
<path d="M32.38 245.80L56.8 261.00L56.8 263.00L32.98 247.30Z" fill="#17AA3C"/>
<path d="M56.8 260.82L165.2 233.11L165.2 234.60L56.8 262.90Z" fill="#17AA3C"/>
<path d="M56.8 262.90L162.0 235.42L162.0 236.42L56.8 264.70Z" fill="#2A1A04" opacity="0.7"/>
<path d="M33.21 253.10L56.8 269.95L56.8 262.75L37.86 249.91Z" fill="#0B6420"/>
<path d="M32.71 253.10L56.8 269.95L56.8 271.85L33.31 254.50Z" fill="#17AA3C"/>
<path d="M56.8 269.74L165.2 238.90L165.2 240.40L56.8 271.90Z" fill="#17AA3C"/>
<path d="M56.8 271.90L162.0 241.31L162.0 242.31L56.8 273.70Z" fill="#2A1A04" opacity="0.7"/>
<path d="M33.54 260.40L56.8 278.90L56.8 270.70L38.64 256.77Z" fill="#0B6420"/>
<path d="M33.04 260.40L56.8 278.90L56.8 280.70L33.64 261.70Z" fill="#17AA3C"/>
<path d="M56.8 278.66L165.2 244.68L165.2 246.20L56.8 280.90Z" fill="#17AA3C"/>
<path d="M56.8 280.90L162.0 247.21L162.0 248.21L56.8 282.70Z" fill="#2A1A04" opacity="0.7"/>
<path d="M33.87 267.70L56.8 287.85L56.8 279.25L39.42 263.85Z" fill="#0B6420"/>
<path d="M33.37 267.70L56.8 287.85L56.8 289.55L33.97 268.90Z" fill="#17AA3C"/>
<path d="M56.8 287.58L165.2 250.47L165.2 252.00L56.8 289.90Z" fill="#17AA3C"/>
<path d="M56.8 289.90L162.0 253.10L162.0 254.10L56.8 291.70Z" fill="#2A1A04" opacity="0.7"/>
<path d="M34.20 275.00L56.8 296.80L56.8 288.20L40.20 271.15Z" fill="#0B6420"/>
<path d="M33.70 275.00L56.8 296.80L56.8 298.40L34.30 276.10Z" fill="#17AA3C"/>
<path d="M56.8 296.50L165.2 256.25L165.2 257.80L56.8 298.90Z" fill="#17AA3C"/>
<path d="M56.8 298.90L162.0 258.99L162.0 259.99L56.8 300.70Z" fill="#2A1A04" opacity="0.7"/>
<path d="M34.53 282.30L56.8 305.75L56.8 297.15L40.98 278.45Z" fill="#0B6420"/>
<path d="M34.03 282.30L56.8 305.75L56.8 307.25L34.63 283.30Z" fill="#17AA3C"/>
<path d="M56.8 305.42L165.2 262.03L165.2 263.60L56.8 307.90Z" fill="#17AA3C"/>
</g>
<path d="M15.3 306.8V298" stroke="#6060D0" stroke-width="0.9"/><path d="M15.3 306.8L12 307" stroke="#20A040" stroke-width="0.8"/><path d="M15.3 306.8L20 306.3" stroke="#D03030" stroke-width="0.8"/>
</g>
<g id="c2">
<rect x="184.9" y="199.4" width="133.70" height="84.10" fill="url(#jet)"/>
<g fill="#600000" opacity="0.16" filter="url(#bl1)"><rect x="184.9" y="208.80" width="133.70" height="4.0"/><rect x="184.9" y="216.00" width="133.70" height="4.0"/></g>
<g fill="#300000" opacity="0.62" filter="url(#bl1)"><rect x="186.40" y="209.20" width="1.2" height="3.2"/><rect x="190.20" y="209.20" width="1.2" height="3.2"/><rect x="194.00" y="209.20" width="1.2" height="3.2"/><rect x="197.80" y="209.20" width="1.2" height="3.2"/><rect x="201.60" y="209.20" width="1.2" height="3.2"/><rect x="205.40" y="209.20" width="1.2" height="3.2"/><rect x="209.20" y="209.20" width="1.2" height="3.2"/><rect x="213.00" y="209.20" width="1.2" height="3.2"/><rect x="216.80" y="209.20" width="1.2" height="3.2"/><rect x="220.60" y="209.20" width="1.2" height="3.2"/><rect x="224.40" y="209.20" width="1.2" height="3.2"/><rect x="228.20" y="209.20" width="1.2" height="3.2"/><rect x="232.00" y="209.20" width="1.2" height="3.2"/><rect x="235.80" y="209.20" width="1.2" height="3.2"/><rect x="239.60" y="209.20" width="1.2" height="3.2"/><rect x="243.40" y="209.20" width="1.2" height="3.2"/><rect x="247.20" y="209.20" width="1.2" height="3.2"/><rect x="251.00" y="209.20" width="1.2" height="3.2"/><rect x="254.80" y="209.20" width="1.2" height="3.2"/><rect x="258.60" y="209.20" width="1.2" height="3.2"/><rect x="262.40" y="209.20" width="1.2" height="3.2"/><rect x="266.20" y="209.20" width="1.2" height="3.2"/><rect x="270.00" y="209.20" width="1.2" height="3.2"/><rect x="273.80" y="209.20" width="1.2" height="3.2"/><rect x="277.60" y="209.20" width="1.2" height="3.2"/><rect x="281.40" y="209.20" width="1.2" height="3.2"/><rect x="285.20" y="209.20" width="1.2" height="3.2"/><rect x="289.00" y="209.20" width="1.2" height="3.2"/><rect x="292.80" y="209.20" width="1.2" height="3.2"/><rect x="296.60" y="209.20" width="1.2" height="3.2"/><rect x="300.40" y="209.20" width="1.2" height="3.2"/><rect x="304.20" y="209.20" width="1.2" height="3.2"/><rect x="308.00" y="209.20" width="1.2" height="3.2"/><rect x="311.80" y="209.20" width="1.2" height="3.2"/><rect x="315.60" y="209.20" width="1.2" height="3.2"/><rect x="186.40" y="216.40" width="1.2" height="3.2"/><rect x="190.20" y="216.40" width="1.2" height="3.2"/><rect x="194.00" y="216.40" width="1.2" height="3.2"/><rect x="197.80" y="216.40" width="1.2" height="3.2"/><rect x="201.60" y="216.40" width="1.2" height="3.2"/><rect x="205.40" y="216.40" width="1.2" height="3.2"/><rect x="209.20" y="216.40" width="1.2" height="3.2"/><rect x="213.00" y="216.40" width="1.2" height="3.2"/><rect x="216.80" y="216.40" width="1.2" height="3.2"/><rect x="220.60" y="216.40" width="1.2" height="3.2"/><rect x="224.40" y="216.40" width="1.2" height="3.2"/><rect x="228.20" y="216.40" width="1.2" height="3.2"/><rect x="232.00" y="216.40" width="1.2" height="3.2"/><rect x="235.80" y="216.40" width="1.2" height="3.2"/><rect x="239.60" y="216.40" width="1.2" height="3.2"/><rect x="243.40" y="216.40" width="1.2" height="3.2"/><rect x="247.20" y="216.40" width="1.2" height="3.2"/><rect x="251.00" y="216.40" width="1.2" height="3.2"/><rect x="254.80" y="216.40" width="1.2" height="3.2"/><rect x="258.60" y="216.40" width="1.2" height="3.2"/><rect x="262.40" y="216.40" width="1.2" height="3.2"/><rect x="266.20" y="216.40" width="1.2" height="3.2"/><rect x="270.00" y="216.40" width="1.2" height="3.2"/><rect x="273.80" y="216.40" width="1.2" height="3.2"/><rect x="277.60" y="216.40" width="1.2" height="3.2"/><rect x="281.40" y="216.40" width="1.2" height="3.2"/><rect x="285.20" y="216.40" width="1.2" height="3.2"/><rect x="289.00" y="216.40" width="1.2" height="3.2"/><rect x="292.80" y="216.40" width="1.2" height="3.2"/><rect x="296.60" y="216.40" width="1.2" height="3.2"/><rect x="300.40" y="216.40" width="1.2" height="3.2"/><rect x="304.20" y="216.40" width="1.2" height="3.2"/><rect x="308.00" y="216.40" width="1.2" height="3.2"/><rect x="311.80" y="216.40" width="1.2" height="3.2"/><rect x="315.60" y="216.40" width="1.2" height="3.2"/></g>
<g fill="#FFFFE8" opacity="0.34" filter="url(#bl1)"><rect x="186.40" y="223.60" width="1.2" height="3.2"/><rect x="190.20" y="223.60" width="1.2" height="3.2"/><rect x="194.00" y="223.60" width="1.2" height="3.2"/><rect x="197.80" y="223.60" width="1.2" height="3.2"/><rect x="201.60" y="223.60" width="1.2" height="3.2"/><rect x="205.40" y="223.60" width="1.2" height="3.2"/><rect x="209.20" y="223.60" width="1.2" height="3.2"/><rect x="213.00" y="223.60" width="1.2" height="3.2"/><rect x="216.80" y="223.60" width="1.2" height="3.2"/><rect x="220.60" y="223.60" width="1.2" height="3.2"/><rect x="224.40" y="223.60" width="1.2" height="3.2"/><rect x="228.20" y="223.60" width="1.2" height="3.2"/><rect x="232.00" y="223.60" width="1.2" height="3.2"/><rect x="235.80" y="223.60" width="1.2" height="3.2"/><rect x="239.60" y="223.60" width="1.2" height="3.2"/><rect x="243.40" y="223.60" width="1.2" height="3.2"/><rect x="247.20" y="223.60" width="1.2" height="3.2"/><rect x="251.00" y="223.60" width="1.2" height="3.2"/><rect x="254.80" y="223.60" width="1.2" height="3.2"/><rect x="258.60" y="223.60" width="1.2" height="3.2"/><rect x="262.40" y="223.60" width="1.2" height="3.2"/><rect x="266.20" y="223.60" width="1.2" height="3.2"/><rect x="270.00" y="223.60" width="1.2" height="3.2"/><rect x="273.80" y="223.60" width="1.2" height="3.2"/><rect x="277.60" y="223.60" width="1.2" height="3.2"/><rect x="281.40" y="223.60" width="1.2" height="3.2"/><rect x="285.20" y="223.60" width="1.2" height="3.2"/><rect x="289.00" y="223.60" width="1.2" height="3.2"/><rect x="292.80" y="223.60" width="1.2" height="3.2"/><rect x="296.60" y="223.60" width="1.2" height="3.2"/><rect x="300.40" y="223.60" width="1.2" height="3.2"/><rect x="304.20" y="223.60" width="1.2" height="3.2"/><rect x="308.00" y="223.60" width="1.2" height="3.2"/><rect x="311.80" y="223.60" width="1.2" height="3.2"/><rect x="315.60" y="223.60" width="1.2" height="3.2"/><rect x="186.40" y="230.80" width="1.2" height="3.2"/><rect x="190.20" y="230.80" width="1.2" height="3.2"/><rect x="194.00" y="230.80" width="1.2" height="3.2"/><rect x="197.80" y="230.80" width="1.2" height="3.2"/><rect x="201.60" y="230.80" width="1.2" height="3.2"/><rect x="205.40" y="230.80" width="1.2" height="3.2"/><rect x="209.20" y="230.80" width="1.2" height="3.2"/><rect x="213.00" y="230.80" width="1.2" height="3.2"/><rect x="216.80" y="230.80" width="1.2" height="3.2"/><rect x="220.60" y="230.80" width="1.2" height="3.2"/><rect x="224.40" y="230.80" width="1.2" height="3.2"/><rect x="228.20" y="230.80" width="1.2" height="3.2"/><rect x="232.00" y="230.80" width="1.2" height="3.2"/><rect x="235.80" y="230.80" width="1.2" height="3.2"/><rect x="239.60" y="230.80" width="1.2" height="3.2"/><rect x="243.40" y="230.80" width="1.2" height="3.2"/><rect x="247.20" y="230.80" width="1.2" height="3.2"/><rect x="251.00" y="230.80" width="1.2" height="3.2"/><rect x="254.80" y="230.80" width="1.2" height="3.2"/><rect x="258.60" y="230.80" width="1.2" height="3.2"/><rect x="262.40" y="230.80" width="1.2" height="3.2"/><rect x="266.20" y="230.80" width="1.2" height="3.2"/><rect x="270.00" y="230.80" width="1.2" height="3.2"/><rect x="273.80" y="230.80" width="1.2" height="3.2"/><rect x="277.60" y="230.80" width="1.2" height="3.2"/><rect x="281.40" y="230.80" width="1.2" height="3.2"/><rect x="285.20" y="230.80" width="1.2" height="3.2"/><rect x="289.00" y="230.80" width="1.2" height="3.2"/><rect x="292.80" y="230.80" width="1.2" height="3.2"/><rect x="296.60" y="230.80" width="1.2" height="3.2"/><rect x="300.40" y="230.80" width="1.2" height="3.2"/><rect x="304.20" y="230.80" width="1.2" height="3.2"/><rect x="308.00" y="230.80" width="1.2" height="3.2"/><rect x="311.80" y="230.80" width="1.2" height="3.2"/><rect x="315.60" y="230.80" width="1.2" height="3.2"/><rect x="186.40" y="238.00" width="1.2" height="3.2"/><rect x="190.20" y="238.00" width="1.2" height="3.2"/><rect x="194.00" y="238.00" width="1.2" height="3.2"/><rect x="197.80" y="238.00" width="1.2" height="3.2"/><rect x="201.60" y="238.00" width="1.2" height="3.2"/><rect x="205.40" y="238.00" width="1.2" height="3.2"/><rect x="209.20" y="238.00" width="1.2" height="3.2"/><rect x="213.00" y="238.00" width="1.2" height="3.2"/><rect x="216.80" y="238.00" width="1.2" height="3.2"/><rect x="220.60" y="238.00" width="1.2" height="3.2"/><rect x="224.40" y="238.00" width="1.2" height="3.2"/><rect x="228.20" y="238.00" width="1.2" height="3.2"/><rect x="232.00" y="238.00" width="1.2" height="3.2"/><rect x="235.80" y="238.00" width="1.2" height="3.2"/><rect x="239.60" y="238.00" width="1.2" height="3.2"/><rect x="243.40" y="238.00" width="1.2" height="3.2"/><rect x="247.20" y="238.00" width="1.2" height="3.2"/><rect x="251.00" y="238.00" width="1.2" height="3.2"/><rect x="254.80" y="238.00" width="1.2" height="3.2"/><rect x="258.60" y="238.00" width="1.2" height="3.2"/><rect x="262.40" y="238.00" width="1.2" height="3.2"/><rect x="266.20" y="238.00" width="1.2" height="3.2"/><rect x="270.00" y="238.00" width="1.2" height="3.2"/><rect x="273.80" y="238.00" width="1.2" height="3.2"/><rect x="277.60" y="238.00" width="1.2" height="3.2"/><rect x="281.40" y="238.00" width="1.2" height="3.2"/><rect x="285.20" y="238.00" width="1.2" height="3.2"/><rect x="289.00" y="238.00" width="1.2" height="3.2"/><rect x="292.80" y="238.00" width="1.2" height="3.2"/><rect x="296.60" y="238.00" width="1.2" height="3.2"/><rect x="300.40" y="238.00" width="1.2" height="3.2"/><rect x="304.20" y="238.00" width="1.2" height="3.2"/><rect x="308.00" y="238.00" width="1.2" height="3.2"/><rect x="311.80" y="238.00" width="1.2" height="3.2"/><rect x="315.60" y="238.00" width="1.2" height="3.2"/><rect x="186.40" y="245.20" width="1.2" height="3.2"/><rect x="190.20" y="245.20" width="1.2" height="3.2"/><rect x="194.00" y="245.20" width="1.2" height="3.2"/><rect x="197.80" y="245.20" width="1.2" height="3.2"/><rect x="201.60" y="245.20" width="1.2" height="3.2"/><rect x="205.40" y="245.20" width="1.2" height="3.2"/><rect x="209.20" y="245.20" width="1.2" height="3.2"/><rect x="213.00" y="245.20" width="1.2" height="3.2"/><rect x="216.80" y="245.20" width="1.2" height="3.2"/><rect x="220.60" y="245.20" width="1.2" height="3.2"/><rect x="224.40" y="245.20" width="1.2" height="3.2"/><rect x="228.20" y="245.20" width="1.2" height="3.2"/><rect x="232.00" y="245.20" width="1.2" height="3.2"/><rect x="235.80" y="245.20" width="1.2" height="3.2"/><rect x="239.60" y="245.20" width="1.2" height="3.2"/><rect x="243.40" y="245.20" width="1.2" height="3.2"/><rect x="247.20" y="245.20" width="1.2" height="3.2"/><rect x="251.00" y="245.20" width="1.2" height="3.2"/><rect x="254.80" y="245.20" width="1.2" height="3.2"/><rect x="258.60" y="245.20" width="1.2" height="3.2"/><rect x="262.40" y="245.20" width="1.2" height="3.2"/><rect x="266.20" y="245.20" width="1.2" height="3.2"/><rect x="270.00" y="245.20" width="1.2" height="3.2"/><rect x="273.80" y="245.20" width="1.2" height="3.2"/><rect x="277.60" y="245.20" width="1.2" height="3.2"/><rect x="281.40" y="245.20" width="1.2" height="3.2"/><rect x="285.20" y="245.20" width="1.2" height="3.2"/><rect x="289.00" y="245.20" width="1.2" height="3.2"/><rect x="292.80" y="245.20" width="1.2" height="3.2"/><rect x="296.60" y="245.20" width="1.2" height="3.2"/><rect x="300.40" y="245.20" width="1.2" height="3.2"/><rect x="304.20" y="245.20" width="1.2" height="3.2"/><rect x="308.00" y="245.20" width="1.2" height="3.2"/><rect x="311.80" y="245.20" width="1.2" height="3.2"/><rect x="315.60" y="245.20" width="1.2" height="3.2"/><rect x="186.40" y="252.40" width="1.2" height="3.2"/><rect x="190.20" y="252.40" width="1.2" height="3.2"/><rect x="194.00" y="252.40" width="1.2" height="3.2"/><rect x="197.80" y="252.40" width="1.2" height="3.2"/><rect x="201.60" y="252.40" width="1.2" height="3.2"/><rect x="205.40" y="252.40" width="1.2" height="3.2"/><rect x="209.20" y="252.40" width="1.2" height="3.2"/><rect x="213.00" y="252.40" width="1.2" height="3.2"/><rect x="216.80" y="252.40" width="1.2" height="3.2"/><rect x="220.60" y="252.40" width="1.2" height="3.2"/><rect x="224.40" y="252.40" width="1.2" height="3.2"/><rect x="228.20" y="252.40" width="1.2" height="3.2"/><rect x="232.00" y="252.40" width="1.2" height="3.2"/><rect x="235.80" y="252.40" width="1.2" height="3.2"/><rect x="239.60" y="252.40" width="1.2" height="3.2"/><rect x="243.40" y="252.40" width="1.2" height="3.2"/><rect x="247.20" y="252.40" width="1.2" height="3.2"/><rect x="251.00" y="252.40" width="1.2" height="3.2"/><rect x="254.80" y="252.40" width="1.2" height="3.2"/><rect x="258.60" y="252.40" width="1.2" height="3.2"/><rect x="262.40" y="252.40" width="1.2" height="3.2"/><rect x="266.20" y="252.40" width="1.2" height="3.2"/><rect x="270.00" y="252.40" width="1.2" height="3.2"/><rect x="273.80" y="252.40" width="1.2" height="3.2"/><rect x="277.60" y="252.40" width="1.2" height="3.2"/><rect x="281.40" y="252.40" width="1.2" height="3.2"/><rect x="285.20" y="252.40" width="1.2" height="3.2"/><rect x="289.00" y="252.40" width="1.2" height="3.2"/><rect x="292.80" y="252.40" width="1.2" height="3.2"/><rect x="296.60" y="252.40" width="1.2" height="3.2"/><rect x="300.40" y="252.40" width="1.2" height="3.2"/><rect x="304.20" y="252.40" width="1.2" height="3.2"/><rect x="308.00" y="252.40" width="1.2" height="3.2"/><rect x="311.80" y="252.40" width="1.2" height="3.2"/><rect x="315.60" y="252.40" width="1.2" height="3.2"/><rect x="186.40" y="259.60" width="1.2" height="3.2"/><rect x="190.20" y="259.60" width="1.2" height="3.2"/><rect x="194.00" y="259.60" width="1.2" height="3.2"/><rect x="197.80" y="259.60" width="1.2" height="3.2"/><rect x="201.60" y="259.60" width="1.2" height="3.2"/><rect x="205.40" y="259.60" width="1.2" height="3.2"/><rect x="209.20" y="259.60" width="1.2" height="3.2"/><rect x="213.00" y="259.60" width="1.2" height="3.2"/><rect x="216.80" y="259.60" width="1.2" height="3.2"/><rect x="220.60" y="259.60" width="1.2" height="3.2"/><rect x="224.40" y="259.60" width="1.2" height="3.2"/><rect x="228.20" y="259.60" width="1.2" height="3.2"/><rect x="232.00" y="259.60" width="1.2" height="3.2"/><rect x="235.80" y="259.60" width="1.2" height="3.2"/><rect x="239.60" y="259.60" width="1.2" height="3.2"/><rect x="243.40" y="259.60" width="1.2" height="3.2"/><rect x="247.20" y="259.60" width="1.2" height="3.2"/><rect x="251.00" y="259.60" width="1.2" height="3.2"/><rect x="254.80" y="259.60" width="1.2" height="3.2"/><rect x="258.60" y="259.60" width="1.2" height="3.2"/><rect x="262.40" y="259.60" width="1.2" height="3.2"/><rect x="266.20" y="259.60" width="1.2" height="3.2"/><rect x="270.00" y="259.60" width="1.2" height="3.2"/><rect x="273.80" y="259.60" width="1.2" height="3.2"/><rect x="277.60" y="259.60" width="1.2" height="3.2"/><rect x="281.40" y="259.60" width="1.2" height="3.2"/><rect x="285.20" y="259.60" width="1.2" height="3.2"/><rect x="289.00" y="259.60" width="1.2" height="3.2"/><rect x="292.80" y="259.60" width="1.2" height="3.2"/><rect x="296.60" y="259.60" width="1.2" height="3.2"/><rect x="300.40" y="259.60" width="1.2" height="3.2"/><rect x="304.20" y="259.60" width="1.2" height="3.2"/><rect x="308.00" y="259.60" width="1.2" height="3.2"/><rect x="311.80" y="259.60" width="1.2" height="3.2"/><rect x="315.60" y="259.60" width="1.2" height="3.2"/><rect x="186.40" y="266.80" width="1.2" height="3.2"/><rect x="190.20" y="266.80" width="1.2" height="3.2"/><rect x="194.00" y="266.80" width="1.2" height="3.2"/><rect x="197.80" y="266.80" width="1.2" height="3.2"/><rect x="201.60" y="266.80" width="1.2" height="3.2"/><rect x="205.40" y="266.80" width="1.2" height="3.2"/><rect x="209.20" y="266.80" width="1.2" height="3.2"/><rect x="213.00" y="266.80" width="1.2" height="3.2"/><rect x="216.80" y="266.80" width="1.2" height="3.2"/><rect x="220.60" y="266.80" width="1.2" height="3.2"/><rect x="224.40" y="266.80" width="1.2" height="3.2"/><rect x="228.20" y="266.80" width="1.2" height="3.2"/><rect x="232.00" y="266.80" width="1.2" height="3.2"/><rect x="235.80" y="266.80" width="1.2" height="3.2"/><rect x="239.60" y="266.80" width="1.2" height="3.2"/><rect x="243.40" y="266.80" width="1.2" height="3.2"/><rect x="247.20" y="266.80" width="1.2" height="3.2"/><rect x="251.00" y="266.80" width="1.2" height="3.2"/><rect x="254.80" y="266.80" width="1.2" height="3.2"/><rect x="258.60" y="266.80" width="1.2" height="3.2"/><rect x="262.40" y="266.80" width="1.2" height="3.2"/><rect x="266.20" y="266.80" width="1.2" height="3.2"/><rect x="270.00" y="266.80" width="1.2" height="3.2"/><rect x="273.80" y="266.80" width="1.2" height="3.2"/><rect x="277.60" y="266.80" width="1.2" height="3.2"/><rect x="281.40" y="266.80" width="1.2" height="3.2"/><rect x="285.20" y="266.80" width="1.2" height="3.2"/><rect x="289.00" y="266.80" width="1.2" height="3.2"/><rect x="292.80" y="266.80" width="1.2" height="3.2"/><rect x="296.60" y="266.80" width="1.2" height="3.2"/><rect x="300.40" y="266.80" width="1.2" height="3.2"/><rect x="304.20" y="266.80" width="1.2" height="3.2"/><rect x="308.00" y="266.80" width="1.2" height="3.2"/><rect x="311.80" y="266.80" width="1.2" height="3.2"/><rect x="315.60" y="266.80" width="1.2" height="3.2"/><rect x="186.40" y="274.00" width="1.2" height="3.2"/><rect x="190.20" y="274.00" width="1.2" height="3.2"/><rect x="194.00" y="274.00" width="1.2" height="3.2"/><rect x="197.80" y="274.00" width="1.2" height="3.2"/><rect x="201.60" y="274.00" width="1.2" height="3.2"/><rect x="205.40" y="274.00" width="1.2" height="3.2"/><rect x="209.20" y="274.00" width="1.2" height="3.2"/><rect x="213.00" y="274.00" width="1.2" height="3.2"/><rect x="216.80" y="274.00" width="1.2" height="3.2"/><rect x="220.60" y="274.00" width="1.2" height="3.2"/><rect x="224.40" y="274.00" width="1.2" height="3.2"/><rect x="228.20" y="274.00" width="1.2" height="3.2"/><rect x="232.00" y="274.00" width="1.2" height="3.2"/><rect x="235.80" y="274.00" width="1.2" height="3.2"/><rect x="239.60" y="274.00" width="1.2" height="3.2"/><rect x="243.40" y="274.00" width="1.2" height="3.2"/><rect x="247.20" y="274.00" width="1.2" height="3.2"/><rect x="251.00" y="274.00" width="1.2" height="3.2"/><rect x="254.80" y="274.00" width="1.2" height="3.2"/><rect x="258.60" y="274.00" width="1.2" height="3.2"/><rect x="262.40" y="274.00" width="1.2" height="3.2"/><rect x="266.20" y="274.00" width="1.2" height="3.2"/><rect x="270.00" y="274.00" width="1.2" height="3.2"/><rect x="273.80" y="274.00" width="1.2" height="3.2"/><rect x="277.60" y="274.00" width="1.2" height="3.2"/><rect x="281.40" y="274.00" width="1.2" height="3.2"/><rect x="285.20" y="274.00" width="1.2" height="3.2"/><rect x="289.00" y="274.00" width="1.2" height="3.2"/><rect x="292.80" y="274.00" width="1.2" height="3.2"/><rect x="296.60" y="274.00" width="1.2" height="3.2"/><rect x="300.40" y="274.00" width="1.2" height="3.2"/><rect x="304.20" y="274.00" width="1.2" height="3.2"/><rect x="308.00" y="274.00" width="1.2" height="3.2"/><rect x="311.80" y="274.00" width="1.2" height="3.2"/><rect x="315.60" y="274.00" width="1.2" height="3.2"/></g>
<rect x="324.5" y="199.6" width="6.3" height="84.4" fill="url(#jetbar)"/>
<text x="183.20" y="285.80" font-size="6.1" text-anchor="end" font-weight="bold" fill="#000" font-family="Liberation Sans, sans-serif" textLength="2.9" lengthAdjust="spacingAndGlyphs">0</text>
<text x="183.70" y="263.60" font-size="6.1" text-anchor="end" font-weight="bold" fill="#000" font-family="Liberation Sans, sans-serif" textLength="8.6" lengthAdjust="spacingAndGlyphs">100</text>
<text x="183.70" y="241.20" font-size="6.1" text-anchor="end" font-weight="bold" fill="#000" font-family="Liberation Sans, sans-serif" textLength="8.6" lengthAdjust="spacingAndGlyphs">200</text>
<text x="183.70" y="218.50" font-size="6.1" text-anchor="end" font-weight="bold" fill="#000" font-family="Liberation Sans, sans-serif" textLength="8.6" lengthAdjust="spacingAndGlyphs">300</text>
<text x="184.80" y="291.10" font-size="6.1" text-anchor="middle" font-weight="bold" fill="#000" font-family="Liberation Sans, sans-serif" textLength="2.9" lengthAdjust="spacingAndGlyphs">0</text>
<text x="213.10" y="291.10" font-size="6.1" text-anchor="middle" font-weight="bold" fill="#000" font-family="Liberation Sans, sans-serif" textLength="8.6" lengthAdjust="spacingAndGlyphs">200</text>
<text x="241.40" y="291.10" font-size="6.1" text-anchor="middle" font-weight="bold" fill="#000" font-family="Liberation Sans, sans-serif" textLength="8.6" lengthAdjust="spacingAndGlyphs">400</text>
<text x="269.70" y="291.10" font-size="6.1" text-anchor="middle" font-weight="bold" fill="#000" font-family="Liberation Sans, sans-serif" textLength="8.6" lengthAdjust="spacingAndGlyphs">600</text>
<text x="298.00" y="291.10" font-size="6.1" text-anchor="middle" font-weight="bold" fill="#000" font-family="Liberation Sans, sans-serif" textLength="8.6" lengthAdjust="spacingAndGlyphs">800</text>
<text x="251.70" y="298.40" font-size="4.8" text-anchor="middle" font-weight="bold" fill="#000" font-family="Liberation Sans, sans-serif" >µm</text>
<text transform="translate(173.00,240.00) rotate(-90)" font-size="4.8" text-anchor="middle" font-weight="bold" fill="#000" font-family="Liberation Sans, sans-serif" >µm</text>
<text x="331.80" y="205.10" font-size="6.4" text-anchor="start" font-weight="bold" fill="#000" font-family="Liberation Sans, sans-serif" textLength="16.0" lengthAdjust="spacingAndGlyphs">1.1851</text>
<text x="331.80" y="218.30" font-size="6.4" text-anchor="start" font-weight="bold" fill="#000" font-family="Liberation Sans, sans-serif" textLength="13.1" lengthAdjust="spacingAndGlyphs">1.185</text>
<text x="331.80" y="231.40" font-size="6.4" text-anchor="start" font-weight="bold" fill="#000" font-family="Liberation Sans, sans-serif" textLength="13.1" lengthAdjust="spacingAndGlyphs">1.185</text>
<text x="331.80" y="244.50" font-size="6.4" text-anchor="start" font-weight="bold" fill="#000" font-family="Liberation Sans, sans-serif" textLength="16.0" lengthAdjust="spacingAndGlyphs">1.1849</text>
<text x="331.80" y="257.70" font-size="6.4" text-anchor="start" font-weight="bold" fill="#000" font-family="Liberation Sans, sans-serif" textLength="16.0" lengthAdjust="spacingAndGlyphs">1.1849</text>
<text x="331.80" y="271.10" font-size="6.4" text-anchor="start" font-weight="bold" fill="#000" font-family="Liberation Sans, sans-serif" textLength="16.0" lengthAdjust="spacingAndGlyphs">1.1849</text>
<text x="331.80" y="284.10" font-size="6.4" text-anchor="start" font-weight="bold" fill="#000" font-family="Liberation Sans, sans-serif" textLength="16.0" lengthAdjust="spacingAndGlyphs">1.1848</text>
</g>
<g id="c3">
<rect x="359.5" y="185.3" width="165" height="115.1" fill="#2A14E2"/>
<g clip-path="url(#c3main)">
<path d="M359 228.3L406 215.8L445 204.3L470 196.5L524 181" stroke="#0E0860" stroke-width="0.9" fill="none"/>
<path d="M359 190.5L374 187.3" stroke="#0E0860" stroke-width="0.8" fill="none"/>
<g filter="url(#bl3)">
<polygon points="361.50,219.05 393.00,213.05 393.00,218.55 361.50,224.55" fill="#2CB0F0" />
<polygon points="367.17,218.41 387.33,214.57 387.33,219.19 367.17,223.03" fill="#40E078" />
<polygon points="395.50,211.10 426.50,204.10 426.50,209.10 395.50,216.10" fill="#2CB0F0" />
<polygon points="401.08,210.24 420.92,205.76 420.92,209.96 401.08,214.44" fill="#40E078" />
<polygon points="426.50,202.10 453.50,196.50 453.50,200.70 426.50,206.30" fill="#2CB0F0" />
<polygon points="431.36,201.43 448.64,197.84 448.64,201.37 431.36,204.96" fill="#40E078" />
<polygon points="452.00,195.50 478.00,190.30 478.00,193.70 452.00,198.90" fill="#2CB0F0" />
<polygon points="456.68,194.84 473.32,191.51 473.32,194.36 456.68,197.69" fill="#40E078" />
<polygon points="367.49,200.56 380.95,199.76 383.68,202.25 386.23,215.82 383.76,218.51 365.96,218.98 363.31,216.50 364.94,203.25" fill="#2C9CF0" />
<polygon points="367.77,201.47 380.73,200.73 383.48,203.22 385.72,215.58 383.25,218.28 366.45,218.72 363.80,216.24 365.20,204.16" fill="#30D8D8" />
<polygon points="368.07,202.38 380.49,201.70 383.26,204.18 385.22,215.35 382.74,218.04 366.94,218.46 364.28,215.99 365.48,205.06" fill="#60E860" />
<polygon points="368.39,203.29 380.24,202.66 383.03,205.15 384.72,215.11 382.24,217.81 367.43,218.21 364.76,215.73 365.77,205.97" fill="#E8E030" />
<polygon points="368.71,204.20 379.98,203.63 382.80,206.12 384.23,214.88 381.73,217.57 367.92,217.95 365.24,215.47 366.08,206.89" fill="#F89020" />
<polygon points="369.04,205.12 379.71,204.59 382.55,207.09 383.74,214.64 381.23,217.33 368.40,217.69 365.72,215.21 366.39,207.80" fill="#F04420" />
<polygon points="369.39,206.03 379.43,205.56 382.29,208.05 383.10,213.41 380.63,216.10 368.92,216.45 366.27,213.97 366.72,208.71" fill="#E43018" />
<polygon points="401.34,193.21 413.88,192.42 416.51,194.72 418.98,205.60 416.74,208.13 399.88,208.76 397.42,206.47 398.92,195.74" fill="#2C9CF0" />
<polygon points="401.62,194.07 413.68,193.33 416.33,195.63 418.47,205.37 416.22,207.90 400.38,208.50 397.92,206.20 399.18,196.60" fill="#30D8D8" />
<polygon points="401.91,194.93 413.47,194.24 416.14,196.54 417.96,205.14 415.70,207.67 400.88,208.23 398.40,205.94 399.46,197.46" fill="#60E860" />
<polygon points="402.22,195.79 413.24,195.15 415.93,197.46 417.45,204.91 415.19,207.45 401.37,207.97 398.89,205.68 399.74,198.31" fill="#E8E030" />
<polygon points="402.54,196.65 413.00,196.06 415.71,198.37 416.95,204.68 414.68,207.22 401.86,207.71 399.37,205.41 400.04,199.17" fill="#F89020" />
<polygon points="402.88,197.51 412.74,196.98 415.48,199.28 416.45,204.45 414.17,206.99 402.34,207.44 399.84,205.15 400.36,200.03" fill="#F04420" />
<polygon points="403.23,198.37 412.47,197.89 415.23,200.19 415.78,203.24 413.54,205.77 402.87,206.20 400.41,203.91 400.68,200.89" fill="#E43018" />
<polygon points="429.59,186.46 441.72,185.67 444.33,187.90 446.82,197.67 444.69,200.13 428.24,200.76 425.85,198.54 427.24,188.92" fill="#2C9CF0" />
<polygon points="429.85,187.27 441.55,186.53 444.18,188.76 446.32,197.44 444.18,199.90 428.72,200.50 426.32,198.28 427.48,189.72" fill="#30D8D8" />
<polygon points="430.13,188.08 441.36,187.39 444.02,189.62 445.82,197.21 443.68,199.67 429.19,200.23 426.78,198.01 427.74,190.53" fill="#60E860" />
<polygon points="430.43,188.89 441.16,188.25 443.84,190.48 445.33,196.98 443.18,199.45 429.66,199.97 427.25,197.75 428.01,191.34" fill="#E8E030" />
<polygon points="430.73,189.69 440.95,189.11 443.65,191.34 444.85,196.75 442.69,199.22 430.13,199.71 427.70,197.49 428.30,192.15" fill="#F89020" />
<polygon points="431.06,190.50 440.72,189.97 443.44,192.20 444.37,196.53 442.20,198.99 430.59,199.45 428.16,197.23 428.60,192.95" fill="#F04420" />
<polygon points="431.39,191.31 440.48,190.82 443.22,193.06 443.69,195.31 441.56,197.78 431.09,198.21 428.70,195.99 428.91,193.76" fill="#E43018" />
<polygon points="455.58,179.85 466.86,179.46 469.17,181.53 471.46,192.35 469.46,194.56 454.57,195.03 452.34,192.97 453.49,182.06" fill="#2C9CF0" />
<polygon points="455.88,180.44 466.62,180.06 468.94,182.13 470.96,192.07 468.96,194.28 455.04,194.72 452.81,192.65 453.79,182.65" fill="#30D8D8" />
<polygon points="456.20,181.02 466.36,180.67 468.69,182.73 470.47,191.79 468.46,194.00 455.51,194.41 453.27,192.34 454.10,183.23" fill="#60E860" />
<polygon points="456.53,181.60 466.10,181.27 468.43,183.34 469.98,191.51 467.96,193.72 455.97,194.10 453.73,192.03 454.42,183.81" fill="#E8E030" />
<polygon points="456.86,182.18 465.82,181.87 468.17,183.94 469.50,191.23 467.48,193.43 456.43,193.79 454.19,191.72 454.74,184.39" fill="#F89020" />
<polygon points="457.21,182.76 465.54,182.48 467.89,184.54 469.01,190.94 466.99,193.15 456.89,193.48 454.64,191.41 455.08,184.97" fill="#F04420" />
<polygon points="457.56,183.34 465.25,183.08 467.61,185.15 468.37,189.68 466.38,191.89 457.36,192.18 455.14,190.11 455.42,185.55" fill="#E43018" />
<polygon points="480.28,180.55 493.16,179.99 495.40,189.06 479.16,189.51" fill="#2C9CF0" />
<polygon points="481.00,181.00 492.50,180.50 494.50,188.60 480.00,189.00" fill="#30D0E0" />
<polygon points="482.08,181.68 491.51,181.27 493.15,187.91 481.26,188.24" fill="#50E890" />
<polygon points="483.40,182.51 490.30,182.21 491.50,187.07 482.80,187.31" fill="#C0E840" />
<polygon points="484.84,183.42 488.98,183.24 489.70,186.15 484.48,186.30" fill="#F0C030" />
<polygon points="505.24,179.56 518.67,179.56 521.48,187.41 504.12,187.97" fill="#2C9CF0" />
<polygon points="506.00,180.00 518.00,180.00 520.50,187.00 505.00,187.50" fill="#30D0E0" />
<polygon points="507.15,180.65 516.99,180.65 519.04,186.39 506.33,186.80" fill="#50E890" />
<polygon points="508.55,181.45 515.75,181.45 517.25,185.65 507.95,185.95" fill="#C0E840" />
<polygon points="510.08,182.32 514.40,182.32 515.30,184.84 509.72,185.02" fill="#F0C030" />
<polygon points="370.80,220.60 389.30,218.00 389.52,219.45 370.97,221.96" fill="#A8E840" />
<polygon points="370.95,221.78 389.49,219.25 389.70,220.70 371.12,223.14" fill="#F0D830" />
<polygon points="371.10,222.95 389.68,220.50 389.89,221.95 371.27,224.31" fill="#F88A20" />
<polygon points="371.25,224.12 389.86,221.75 390.08,223.20 371.42,225.49" fill="#F89420" />
<polygon points="371.40,225.30 390.05,223.00 390.27,224.45 371.57,226.66" fill="#F0D030" />
<polygon points="371.55,226.47 390.24,224.25 390.45,225.70 371.72,227.84" fill="#70E860" />
<polygon points="371.70,227.65 390.43,225.50 390.64,226.95 371.87,229.01" fill="#30D8D0" />
<polygon points="371.85,228.82 390.61,226.75 390.83,228.20 372.02,230.19" fill="#2C9CF0" />
<polygon points="404.40,210.00 422.30,207.60 422.58,209.63 404.57,211.94" fill="#A8E840" />
<polygon points="404.55,211.68 422.54,209.35 422.81,211.38 404.72,213.62" fill="#F0D830" />
<polygon points="404.70,213.35 422.77,211.10 423.05,213.13 404.87,215.29" fill="#F88A20" />
<polygon points="404.85,215.03 423.01,212.85 423.29,214.88 405.02,216.97" fill="#F89420" />
<polygon points="405.00,216.70 423.25,214.60 423.53,216.63 405.17,218.64" fill="#F0D030" />
<polygon points="405.15,218.38 423.49,216.35 423.76,218.38 405.32,220.32" fill="#70E860" />
<polygon points="405.30,220.05 423.73,218.10 424.00,220.13 405.47,221.99" fill="#30D8D0" />
<polygon points="405.45,221.72 423.96,219.85 424.24,221.88 405.62,223.67" fill="#2C9CF0" />
<polygon points="438.00,201.20 453.30,199.20 453.52,201.23 438.17,203.17" fill="#A8E840" />
<polygon points="438.15,202.90 453.49,200.95 453.70,202.98 438.32,204.87" fill="#F0D830" />
<polygon points="438.30,204.60 453.68,202.70 453.89,204.73 438.47,206.57" fill="#F88A20" />
<polygon points="438.45,206.30 453.86,204.45 454.08,206.48 438.62,208.27" fill="#F89420" />
<polygon points="438.60,208.00 454.05,206.20 454.27,208.23 438.77,209.97" fill="#F0D030" />
<polygon points="438.75,209.70 454.24,207.95 454.45,209.98 438.92,211.67" fill="#70E860" />
<polygon points="438.90,211.40 454.43,209.70 454.64,211.73 439.07,213.37" fill="#30D8D0" />
<polygon points="439.05,213.10 454.61,211.45 454.83,213.48 439.22,215.07" fill="#2C9CF0" />
<polygon points="465.20,191.60 477.80,190.00 477.97,192.12 465.34,193.63" fill="#50E090" />
<polygon points="465.32,193.35 477.95,191.82 478.12,193.94 465.47,195.38" fill="#C8E838" />
<polygon points="465.45,195.10 478.10,193.65 478.27,195.77 465.59,197.13" fill="#F0C028" />
<polygon points="465.57,196.85 478.25,195.47 478.42,197.59 465.72,198.88" fill="#F0A020" />
<polygon points="465.70,198.60 478.40,197.30 478.57,199.42 465.84,200.63" fill="#D8E030" />
<polygon points="465.82,200.35 478.55,199.12 478.72,201.24 465.97,202.38" fill="#60E880" />
<polygon points="465.95,202.10 478.70,200.95 478.87,203.07 466.09,204.13" fill="#30D0E0" />
<polygon points="466.07,203.85 478.85,202.78 479.02,204.89 466.22,205.88" fill="#2C9CF0" />
<polygon points="486.20,187.00 501.00,185.60 501.17,187.37 486.34,188.68" fill="#50E090" />
<polygon points="486.32,188.45 501.15,187.12 501.32,188.89 486.47,190.13" fill="#C8E838" />
<polygon points="486.45,189.90 501.30,188.65 501.47,190.42 486.59,191.58" fill="#F0C028" />
<polygon points="486.57,191.35 501.45,190.18 501.62,191.94 486.72,193.03" fill="#F0A020" />
<polygon points="486.70,192.80 501.60,191.70 501.77,193.47 486.84,194.48" fill="#D8E030" />
<polygon points="486.82,194.25 501.75,193.22 501.92,194.99 486.97,195.93" fill="#60E880" />
<polygon points="486.95,195.70 501.90,194.75 502.07,196.52 487.09,197.38" fill="#30D0E0" />
<polygon points="487.07,197.15 502.05,196.28 502.22,198.04 487.22,198.83" fill="#2C9CF0" />
<polygon points="505.50,185.20 519.50,184.00 519.64,185.25 505.62,186.36" fill="#30C8E8" />
<polygon points="505.60,186.20 519.62,185.07 519.77,186.32 505.72,187.36" fill="#50E090" />
<polygon points="505.70,187.20 519.75,186.15 519.89,187.40 505.82,188.36" fill="#B0E840" />
<polygon points="505.80,188.20 519.88,187.22 520.02,188.47 505.92,189.36" fill="#E0D830" />
<polygon points="505.90,189.20 520.00,188.30 520.14,189.55 506.02,190.36" fill="#90E860" />
<polygon points="506.00,190.20 520.12,189.38 520.27,190.62 506.12,191.36" fill="#40D8B0" />
<polygon points="506.10,191.20 520.25,190.45 520.39,191.70 506.22,192.36" fill="#30B8F0" />
<polygon points="506.20,192.20 520.38,191.53 520.52,192.77 506.32,193.36" fill="#2C80F0" />
<polygon points="366.50,219.20 388.50,215.90 388.50,218.50 366.50,221.80" fill="#44E07C" />
<polygon points="400.50,209.20 421.50,205.80 421.50,208.20 400.50,211.60" fill="#44E07C" />
<polygon points="430.00,201.00 450.50,197.80 450.50,199.80 430.00,203.00" fill="#44E07C" />
<polygon points="456.00,194.80 474.00,192.00 474.00,193.60 456.00,196.40" fill="#44E07C" />
<polygon points="385.61,262.77 399.35,256.24 403.54,259.10 419.14,292.04 416.22,296.00 387.76,296.00 382.99,292.89 383.26,266.99" fill="#2C9CF0" />
<polygon points="386.08,264.87 400.22,259.03 404.55,261.95 418.65,292.05 415.70,296.00 388.40,296.00 383.60,292.87 383.60,269.03" fill="#30D0E8" />
<polygon points="386.60,266.99 401.05,261.80 405.52,264.78 418.16,292.06 415.19,296.00 389.04,296.00 384.21,292.86 383.99,271.08" fill="#48E090" />
<polygon points="387.17,269.13 401.85,264.55 406.46,267.60 417.68,292.08 414.68,296.00 389.68,296.00 384.82,292.85 384.42,273.16" fill="#B8EC40" />
<polygon points="387.78,271.29 402.61,267.29 407.37,270.40 417.19,292.09 414.16,296.00 390.32,296.00 385.43,292.83 384.89,275.26" fill="#F8D020" />
<polygon points="388.43,273.47 403.34,270.01 408.24,273.18 416.70,292.10 413.65,296.00 390.96,296.00 386.04,292.82 385.41,277.38" fill="#F89A24" />
<polygon points="389.13,275.67 404.03,272.72 409.07,275.95 416.22,292.11 413.14,296.00 391.60,296.00 386.64,292.80 385.98,279.52" fill="#F47C30" />
<polygon points="391.74,279.33 403.69,277.58 408.88,280.88 413.54,292.17 410.32,296.00 394.42,296.00 389.32,292.74 388.43,283.12" fill="#F0642C" />
<polygon points="426.97,245.31 441.21,241.46 445.14,243.65 471.92,292.77 469.96,295.60 448.98,295.60 444.40,293.03 425.67,248.52" fill="#2C9CF0" />
<polygon points="428.02,246.78 441.78,243.22 445.74,245.43 471.46,292.77 469.49,295.60 449.51,295.60 444.91,293.03 426.69,249.97" fill="#30D0E8" />
<polygon points="429.07,248.25 442.34,244.98 446.32,247.20 471.00,292.78 469.02,295.60 450.04,295.60 445.43,293.02 427.72,251.42" fill="#48E090" />
<polygon points="430.14,249.72 442.89,246.73 446.90,248.96 470.54,292.78 468.56,295.60 450.56,295.60 445.95,293.02 428.75,252.89" fill="#B8EC40" />
<polygon points="431.21,251.20 443.43,248.47 447.47,250.72 470.09,292.79 468.09,295.60 451.09,295.60 446.46,293.01 429.80,254.35" fill="#F8D020" />
<polygon points="432.30,252.69 443.96,250.21 448.02,252.47 469.63,292.79 467.62,295.60 451.61,295.60 446.98,293.01 430.86,255.82" fill="#F89A24" />
<polygon points="433.39,254.18 444.48,251.94 448.57,254.22 469.17,292.80 467.15,295.60 452.14,295.60 447.50,293.00 431.93,257.30" fill="#F47C30" />
<polygon points="437.04,257.79 444.78,256.42 448.75,258.64 466.69,292.92 464.71,295.60 454.58,295.60 450.07,293.08 435.59,260.77" fill="#F0642C" />
<polygon points="460.19,232.28 472.76,229.49 476.30,230.71 505.70,264.63 504.98,267.70 491.74,276.05 488.13,275.41 459.54,234.77" fill="#2C9CF0" />
<polygon points="461.68,233.71 473.52,230.89 477.06,232.10 504.34,263.70 503.62,266.75 491.18,274.45 487.58,273.79 461.02,236.21" fill="#30D0E8" />
<polygon points="463.17,235.11 474.28,232.31 477.83,233.49 502.97,262.77 502.25,265.80 490.63,272.85 487.02,272.17 462.51,237.65" fill="#48E090" />
<polygon points="464.66,236.51 475.04,233.74 478.59,234.89 501.61,261.83 500.89,264.83 490.07,271.27 486.47,270.57 464.00,239.07" fill="#B8EC40" />
<polygon points="466.16,237.90 475.80,235.18 479.35,236.31 500.25,260.87 499.53,263.86 489.52,269.70 485.92,268.97 465.49,240.48" fill="#F8D020" />
<polygon points="467.66,239.27 476.56,236.63 480.11,237.73 498.89,259.91 498.18,262.87 488.96,268.13 485.36,267.39 466.99,241.87" fill="#F89A24" />
<polygon points="469.15,240.63 477.31,238.09 480.87,239.17 497.53,258.94 496.82,261.88 488.40,266.58 484.80,265.82 468.48,243.26" fill="#F47C30" />
<polygon points="473.45,243.79 478.53,242.02 481.40,242.85 493.01,256.99 492.45,259.32 487.25,262.05 484.36,261.40 472.91,245.93" fill="#F0642C" />
<polygon points="486.67,220.79 500.39,218.36 504.41,219.82 555.68,274.99 554.75,277.77 538.70,283.25 534.39,282.16 486.03,223.19" fill="#2C9CF0" />
<polygon points="488.29,222.18 501.31,219.82 505.34,221.27 555.26,275.13 554.34,277.91 539.16,283.09 534.86,282.00 487.64,224.60" fill="#30D0E8" />
<polygon points="489.91,223.57 502.23,221.28 506.26,222.73 554.85,275.27 553.92,278.05 539.63,282.93 535.32,281.85 489.26,226.00" fill="#48E090" />
<polygon points="491.54,224.96 503.14,222.75 507.18,224.19 554.44,275.40 553.51,278.19 540.10,282.77 535.79,281.69 490.88,227.39" fill="#B8EC40" />
<polygon points="493.17,226.34 504.06,224.22 508.10,225.65 554.02,275.54 553.09,278.33 540.56,282.61 536.25,281.53 492.51,228.78" fill="#F8D020" />
<polygon points="494.81,227.72 504.96,225.69 509.02,227.11 553.61,275.68 552.68,278.48 541.03,282.45 536.71,281.38 494.14,230.17" fill="#F89A24" />
<polygon points="496.45,229.09 505.87,227.17 509.93,228.58 553.20,275.82 552.26,278.62 541.50,282.29 537.18,281.22 495.77,231.55" fill="#F47C30" />
<polygon points="501.06,232.17 507.18,230.86 510.70,232.07 551.16,276.84 550.34,279.27 543.42,281.64 539.67,280.72 500.46,234.31" fill="#F0642C" />
<polygon points="510.30,211.19 521.69,208.83 524.88,210.07 556.09,248.27 555.21,250.42 541.68,253.60 538.25,252.45 509.66,213.25" fill="#2C9CF0" />
<polygon points="511.87,212.61 522.53,210.39 525.73,211.63 555.67,248.37 554.79,250.52 542.21,253.48 538.77,252.33 511.23,214.67" fill="#30D0E8" />
<polygon points="513.45,214.03 523.36,211.95 526.58,213.19 555.25,248.46 554.37,250.62 542.74,253.36 539.30,252.20 512.79,216.10" fill="#48E090" />
<polygon points="515.03,215.45 524.20,213.52 527.42,214.76 554.83,248.56 553.94,250.72 543.27,253.23 539.82,252.08 514.37,217.52" fill="#B8EC40" />
<polygon points="516.62,216.87 525.02,215.09 528.26,216.32 554.41,248.66 553.52,250.82 543.80,253.11 540.35,251.96 515.94,218.94" fill="#F8D020" />
<polygon points="518.21,218.28 525.85,216.66 529.09,217.89 553.99,248.76 553.10,250.92 544.32,252.98 540.88,251.83 517.53,220.36" fill="#F89A24" />
<polygon points="519.81,219.70 526.66,218.23 529.92,219.46 553.57,248.86 552.68,251.02 544.85,252.86 541.40,251.71 519.12,221.78" fill="#F47C30" />
<polygon points="523.97,222.96 528.02,222.08 530.26,222.92 551.67,249.91 551.04,251.40 546.49,252.47 544.10,251.69 523.48,224.40" fill="#F0642C" />
</g>
<g stroke="#160E74" fill="none" stroke-linecap="round" opacity="0.85">
<path d="M403.4 258.6L412.4 278" stroke-width="0.8"/>
<path d="M425.6 247.8L439.6 278" stroke-width="0.95"/>
<path d="M459.0 234.6L488.6 275.4" stroke-width="0.9"/>
<path d="M485.6 223L497.5 238L524 266" stroke-width="0.85"/>
<path d="M509.6 213.6L524 232" stroke-width="0.9"/>
<path d="M372.5 230.6L391 228.6M406 224L424.5 222.2M439.5 215.6L455 213.8M466.4 206.2L479.2 205" stroke-width="0.9" opacity="0.8"/>
</g>
</g>
<text x="371.50" y="234.40" font-size="4.9" text-anchor="start" font-weight="normal" fill="#fff" font-family="Liberation Sans, sans-serif" >Temperature(K)</text>
<rect x="370.8" y="237.6" width="2.2" height="35.8" fill="url(#tbar)"/>
<text x="368.80" y="239.40" font-size="4.4" text-anchor="end" font-weight="bold" fill="#fff" font-family="Liberation Sans, sans-serif" >354</text>
<text x="374.40" y="247.60" font-size="4.4" text-anchor="start" font-weight="bold" fill="#fff" font-family="Liberation Sans, sans-serif" >340</text>
<text x="374.40" y="260.10" font-size="4.4" text-anchor="start" font-weight="bold" fill="#fff" font-family="Liberation Sans, sans-serif" >320</text>
<text x="374.40" y="271.70" font-size="4.4" text-anchor="start" font-weight="bold" fill="#fff" font-family="Liberation Sans, sans-serif" >300</text>
<text x="360.40" y="276.90" font-size="4.4" text-anchor="start" font-weight="bold" fill="#fff" font-family="Liberation Sans, sans-serif" >293</text>
<rect x="359.5" y="277.5" width="165" height="2.3" fill="#fff"/>
<g clip-path="url(#c3bot)">
<g filter="url(#bl3)">
<path d="M370 280.6H386.8V298H369.5Q365.8 289 370 280.6Z" fill="#2EB6EA"/>
<ellipse cx="378.50" cy="291.3" rx="7.13" ry="4.6" fill="#3CE088"/>
<ellipse cx="384.30" cy="283.2" rx="3.6" ry="2.8" fill="#70E860"/>
<path d="M427.7 280.6H411.6V298H428.2Q431.9 289 427.7 280.6Z" fill="#2EB6EA"/>
<ellipse cx="419.55" cy="291.3" rx="6.88" ry="4.6" fill="#3CE088"/>
<ellipse cx="414.10" cy="283.2" rx="3.6" ry="2.8" fill="#70E860"/>
<path d="M460 280.6H476.2V298H459.5Q455.8 289 460 280.6Z" fill="#2EB6EA"/>
<ellipse cx="468.20" cy="291.3" rx="6.91" ry="4.6" fill="#3CE088"/>
<ellipse cx="473.70" cy="283.2" rx="3.6" ry="2.8" fill="#70E860"/>
<path d="M518.2 280.6H502.6V298H518.7Q522.4000000000001 289 518.2 280.6Z" fill="#2EB6EA"/>
<ellipse cx="510.30" cy="291.3" rx="6.70" ry="4.6" fill="#3CE088"/>
<ellipse cx="505.10" cy="283.2" rx="3.6" ry="2.8" fill="#70E860"/>
<rect x="385" y="280" width="29" height="3.2" fill="#F07028"/>
<rect x="474" y="280" width="30.5" height="3.2" fill="#F05828"/>
</g>
<g fill="#74747E"><rect x="359.5" y="280" width="7.5" height="1.8"/><rect x="430.7" y="280" width="26.3" height="1.8"/><rect x="521.2" y="280" width="3.5" height="1.8"/><rect x="386.8" y="297.7" width="24.5" height="2.7"/><rect x="476.2" y="297.7" width="26.4" height="2.7"/></g>
<path d="M391 285.2H414M478 285.2H500" stroke="#6FA0FF" stroke-width="0.6" stroke-dasharray="2 2.5"/>
</g>
<text x="404.40" y="289.60" font-size="6.0" text-anchor="middle" font-weight="bold" fill="#FF7878" font-family="Liberation Sans, sans-serif" >A</text>
<text x="482.80" y="289.60" font-size="6.0" text-anchor="middle" font-weight="bold" fill="#FF6868" font-family="Liberation Sans, sans-serif" >B</text>
<text x="497.50" y="289.60" font-size="6.0" text-anchor="middle" font-weight="bold" fill="#FF6868" font-family="Liberation Sans, sans-serif" >C</text>
</g>
<rect x="4.8" y="4.7" width="540" height="310" fill="none" stroke="#000" stroke-width="1.7"/>
<path d="M188 6.3V161.3" stroke="#000" stroke-width="1.3" stroke-dasharray="9.3 5.45" fill="none"/>
<path d="M393.8 4.7V161" stroke="#000" stroke-width="1.3" stroke-dasharray="9 5.7" fill="none"/>
<path d="M7 166.3H547" stroke="#000" stroke-width="1.3" stroke-dasharray="9.6 5.15" fill="none"/>
<text x="8.20" y="16.10" font-size="14.5" text-anchor="start" font-weight="normal" fill="#000" font-family="Liberation Serif, serif" >(a)</text>
<text x="189.50" y="17.00" font-size="14.5" text-anchor="start" font-weight="normal" fill="#000" font-family="Liberation Serif, serif" >(b)</text>
<text x="396.50" y="18.30" font-size="14.5" text-anchor="start" font-weight="normal" fill="#000" font-family="Liberation Serif, serif" >(d)</text>
<text x="8.90" y="178.00" font-size="14.5" text-anchor="start" font-weight="normal" fill="#000" font-family="Liberation Serif, serif" >(c)</text>
</g>
</svg>
</body></html>
